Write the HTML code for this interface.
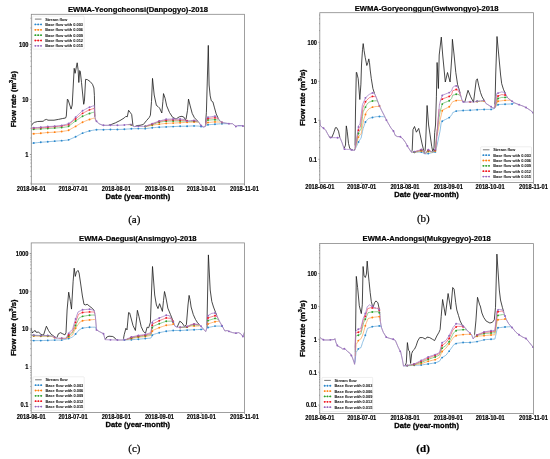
<!DOCTYPE html>
<html><head><meta charset="utf-8"><style>
html,body{margin:0;padding:0;background:#fff;width:550px;height:459px;overflow:hidden}
svg{display:block}
.t{font-family:"Liberation Sans",Arial,sans-serif;font-weight:bold;font-size:7.62px;fill:#000;stroke:#000;stroke-width:0.2px}
.tk{font-family:"Liberation Sans",Arial,sans-serif;font-weight:bold;font-size:5.7px;fill:#000;stroke:#000;stroke-width:0.14px}
.xl{font-family:"Liberation Sans",Arial,sans-serif;font-weight:bold;font-size:7.55px;fill:#000;stroke:#000;stroke-width:0.3px}
.lg{font-family:"Liberation Sans",Arial,sans-serif;font-weight:bold;font-size:7.8px;fill:#222;stroke:#222;stroke-width:0.12px}
.cap{font-family:"Liberation Serif",serif;font-size:11px;fill:#000;stroke:#000;stroke-width:0.2px}
</style></head><body>
<svg width="550" height="459" viewBox="0 0 550 459">
<defs><clipPath id="clipa"><rect x="31.3" y="14.3" width="213.2" height="169.7"/></clipPath><clipPath id="clipb"><rect x="319.8" y="12.7" width="213.59999999999997" height="169.70000000000002"/></clipPath><clipPath id="clipc"><rect x="31.2" y="242.9" width="213.3" height="169.49999999999997"/></clipPath><clipPath id="clipd"><rect x="319.8" y="243.6" width="213.7" height="169.79999999999998"/></clipPath></defs>
<text x="137.90" y="11.60" class="t" text-anchor="middle">EWMA-Yeongcheonsi(Danpogyo)-2018</text>
<path d="M30.50,183.26H31.30M30.50,176.39H31.30M30.50,171.06H31.30M30.50,166.70H31.30M30.50,163.02H31.30M30.50,159.83H31.30M30.50,157.02H31.30M29.90,154.50H31.30M30.50,137.94H31.30M30.50,128.26H31.30M30.50,121.39H31.30M30.50,116.06H31.30M30.50,111.70H31.30M30.50,108.02H31.30M30.50,104.83H31.30M30.50,102.02H31.30M29.90,99.50H31.30M30.50,82.94H31.30M30.50,73.26H31.30M30.50,66.39H31.30M30.50,61.06H31.30M30.50,56.70H31.30M30.50,53.02H31.30M30.50,49.83H31.30M30.50,47.02H31.30M29.90,44.50H31.30M30.50,27.94H31.30M30.50,18.26H31.30M31.30,184.00V185.40M73.10,184.00V185.40M116.30,184.00V185.40M159.50,184.00V185.40M201.30,184.00V185.40M244.50,184.00V185.40" stroke="#333" stroke-width="0.5" fill="none"/>
<text transform="translate(28.50,156.80) scale(1,1.1)" class="tk" text-anchor="end">1</text>
<text transform="translate(28.50,101.80) scale(1,1.1)" class="tk" text-anchor="end">10</text>
<text transform="translate(28.50,46.80) scale(1,1.1)" class="tk" text-anchor="end">100</text>
<text transform="translate(31.30,190.90) scale(1,1.1)" class="tk" text-anchor="middle">2018-06-01</text>
<text transform="translate(73.10,190.90) scale(1,1.1)" class="tk" text-anchor="middle">2018-07-01</text>
<text transform="translate(116.30,190.90) scale(1,1.1)" class="tk" text-anchor="middle">2018-08-01</text>
<text transform="translate(159.50,190.90) scale(1,1.1)" class="tk" text-anchor="middle">2018-09-01</text>
<text transform="translate(201.30,190.90) scale(1,1.1)" class="tk" text-anchor="middle">2018-10-01</text>
<text transform="translate(244.50,190.90) scale(1,1.1)" class="tk" text-anchor="middle">2018-11-01</text>
<text x="137.90" y="198.50" class="xl" text-anchor="middle">Date (year-month)</text>
<text transform="translate(16.30,99.15) rotate(-90)" class="xl" text-anchor="middle">Flow rate (m<tspan font-size="5.6" dy="-2.9">3</tspan><tspan dy="2.9">/s)</tspan></text>
<text x="134.30" y="222.60" class="cap" text-anchor="middle">(a)</text>
<g clip-path="url(#clipa)">
<polyline points="31.30,126.20 32.20,124.00 34.40,122.40 37.60,121.50 43.10,121.30 44.70,120.00 46.40,119.40 48.00,120.20 54.00,120.20 58.40,119.40 62.70,118.50 65.60,118.00 66.30,116.10 67.40,99.10 68.10,99.90 71.10,109.10 72.20,105.00 74.20,68.30 75.10,73.30 77.20,62.80 78.10,69.70 78.80,82.50 79.70,70.60 80.30,71.50 81.50,82.50 83.70,104.30 84.40,101.30 85.60,79.30 87.50,79.70 90.20,81.60 92.50,84.30 93.90,88.00 94.40,95.40 94.80,116.50" stroke="#1a1a1a" stroke-width="0.8" fill="none" stroke-linejoin="round"/>
<polyline points="94.80,116.50 95.90,120.60 99.20,123.90 103.00,125.30 107.90,125.30 108.80,125.08" stroke="#1a1a1a" stroke-width="0.8" fill="none" stroke-linejoin="round" stroke-opacity="0.3"/>
<polyline points="108.80,125.08 111.20,124.50 115.50,122.80 119.90,120.60 124.30,117.90 125.90,116.30 127.30,116.80 128.60,110.30 130.30,112.50 131.70,114.60 133.00,126.10" stroke="#1a1a1a" stroke-width="0.8" fill="none" stroke-linejoin="round"/>
<polyline points="133.00,126.10 134.60,126.60 135.30,126.32" stroke="#1a1a1a" stroke-width="0.8" fill="none" stroke-linejoin="round" stroke-opacity="0.3"/>
<polyline points="135.30,126.32 137.40,125.50 140.00,125.30 143.30,124.50 146.50,120.60 149.30,117.40 150.40,115.20 151.50,101.50 152.50,78.40 154.20,95.00 156.40,105.40 158.00,106.50 159.60,108.10 161.80,113.00 162.90,101.50 163.50,93.60 165.10,98.30 166.70,105.90 169.50,112.50 172.70,117.40 175.80,118.90" stroke="#1a1a1a" stroke-width="0.8" fill="none" stroke-linejoin="round"/>
<polyline points="175.80,118.90 176.00,119.00 176.30,118.80" stroke="#1a1a1a" stroke-width="0.8" fill="none" stroke-linejoin="round" stroke-opacity="0.3"/>
<polyline points="176.30,118.80 179.30,116.80 182.00,116.30 184.20,117.40 185.80,120.60" stroke="#1a1a1a" stroke-width="0.8" fill="none" stroke-linejoin="round"/>
<polyline points="185.80,120.60 186.05,119.09" stroke="#1a1a1a" stroke-width="0.8" fill="none" stroke-linejoin="round" stroke-opacity="0.3"/>
<polyline points="186.05,119.09 187.50,110.30 188.50,99.10 190.20,105.90 192.20,113.40 194.40,117.70 196.50,119.90 197.55,120.95" stroke="#1a1a1a" stroke-width="0.8" fill="none" stroke-linejoin="round"/>
<polyline points="197.55,120.95 198.70,122.10 200.90,125.40 203.60,127.00 205.30,126.50 205.55,123.27" stroke="#1a1a1a" stroke-width="0.8" fill="none" stroke-linejoin="round" stroke-opacity="0.3"/>
<polyline points="205.55,123.27 206.40,112.30 208.30,45.40 209.10,85.00 210.20,95.90 211.30,100.80 212.90,101.90 214.50,107.90 216.20,113.90 218.30,118.58" stroke="#1a1a1a" stroke-width="0.8" fill="none" stroke-linejoin="round"/>
<polyline points="218.30,118.58 218.40,118.80 220.50,121.50 222.70,122.60 226.00,123.20 229.30,123.70 232.50,123.70 235.80,126.50 238.00,125.60 241.30,125.60 244.50,126.50" stroke="#1a1a1a" stroke-width="0.8" fill="none" stroke-linejoin="round" stroke-opacity="0.3"/>
<polyline points="31.30,143.30 32.20,143.21 33.30,143.10 34.40,142.97 37.60,142.61 40.30,142.30 43.10,142.10 44.70,141.98 46.40,141.86 47.20,141.80 48.00,141.73 54.00,141.22 54.20,141.20 58.40,140.90 61.20,140.70 62.70,140.57 65.60,140.32 66.30,140.26 67.40,140.16 68.10,140.10 71.10,138.81 72.20,138.34 74.20,137.49 75.10,137.10 77.20,135.96 78.10,135.47 78.80,135.09 79.70,134.60 80.30,134.28 81.50,133.63 82.10,133.30 83.70,132.77 84.40,132.53 85.60,132.13 87.50,131.50 89.00,131.00 90.20,130.78 92.50,130.35 93.90,130.09 94.40,130.00 94.80,129.92 95.90,129.72 96.00,129.70 99.20,129.70 103.00,129.70 107.90,129.56 110.00,129.50 111.20,129.50 115.50,129.50 117.00,129.50 119.90,129.42 124.00,129.30 124.30,129.28 125.90,129.16 127.30,129.06 128.60,128.97 130.30,128.84 130.90,128.80 131.70,128.78 133.00,128.74 134.60,128.69 137.40,128.61 137.80,128.60 140.00,128.63 143.30,128.68 144.80,128.70 146.50,128.48 149.30,128.12 150.40,127.98 151.50,127.84 151.80,127.80 152.50,127.74 154.20,127.59 156.40,127.40 158.00,127.26 158.70,127.20 159.60,127.16 161.80,127.07 162.90,127.02 163.50,126.99 165.10,126.93 165.70,126.90 166.70,126.86 169.50,126.74 172.70,126.60 176.00,126.46 179.30,126.31 179.60,126.30 182.00,126.27 184.20,126.23 185.80,126.21 186.60,126.20 187.50,126.16 188.50,126.12 190.20,126.05 192.20,125.96 193.60,125.90 194.40,125.93 196.50,126.01 198.70,126.10 200.90,126.50 203.30,126.94" stroke="#6bacdb" stroke-width="0.75" fill="none" stroke-linejoin="round"/>
<polyline points="205.55,126.19 206.40,125.12 206.50,125.00 207.50,124.80 208.30,124.74 209.10,124.69 210.20,124.61 211.30,124.53 212.90,124.41 214.50,124.30 216.20,124.15 218.40,123.96 220.50,123.78 221.40,123.70 222.70,123.70 226.00,123.70 228.55,123.78" stroke="#6bacdb" stroke-width="0.75" fill="none" stroke-linejoin="round"/>
<polyline points="238.00,125.80 241.30,125.80 241.55,125.85" stroke="#6bacdb" stroke-width="0.75" fill="none" stroke-linejoin="round"/>
<polyline points="31.30,133.90 32.20,133.86 33.30,133.80 34.40,133.72 37.60,133.49 40.30,133.30 43.10,132.98 44.70,132.79 46.40,132.59 47.20,132.50 48.00,132.47 54.00,132.21 54.20,132.20 58.40,131.84 61.20,131.60 62.70,131.36 65.60,130.90 66.30,130.79 67.40,130.61 68.10,130.50 71.10,128.87 72.20,128.27 74.20,127.19 75.10,126.70 77.20,125.41 78.10,124.86 78.80,124.43 79.70,123.87 80.30,123.51 81.50,122.77 82.10,122.40 83.70,121.75 84.40,121.47 85.60,120.98 87.50,120.21 89.00,119.60 90.20,119.24 92.50,118.54 93.90,118.12 94.30,118.00 94.40,118.10 94.80,118.50 95.80,120.41" stroke="#ffa556" stroke-width="0.75" fill="none" stroke-linejoin="round"/>
<polyline points="127.55,124.79 128.60,124.73 130.30,124.63 130.90,124.60 131.70,125.17 132.05,125.42" stroke="#ffa556" stroke-width="0.75" fill="none" stroke-linejoin="round"/>
<polyline points="145.05,126.55 146.50,126.28 149.30,125.76 150.40,125.56 151.50,125.36 151.80,125.30 152.50,125.19 154.20,124.92 156.40,124.57 158.00,124.31 158.70,124.20 159.60,124.10 161.80,123.85 162.90,123.72 163.50,123.65 165.10,123.47 165.70,123.40 166.70,123.36 169.50,123.24 172.70,123.10 176.00,122.96 179.30,122.81 179.60,122.80 182.00,122.63 184.20,122.47 185.80,122.36 186.60,122.30 187.50,122.27 188.50,122.25 190.20,122.20 192.20,122.14 193.60,122.10 194.40,122.10 196.50,122.10 198.55,122.10" stroke="#ffa556" stroke-width="0.75" fill="none" stroke-linejoin="round"/>
<polyline points="205.55,125.73 206.40,123.11 206.50,122.80 207.50,122.60 208.30,122.52 209.10,122.44 210.20,122.33 211.30,122.22 212.90,122.06 214.50,121.90 216.20,121.95 218.00,122.00 218.40,122.02 220.50,122.10 222.05,122.45" stroke="#ffa556" stroke-width="0.75" fill="none" stroke-linejoin="round"/>
<polyline points="31.30,129.30 32.20,129.25 33.30,129.20 34.40,129.15 37.60,129.02 40.30,128.90 43.10,128.78 44.70,128.71 46.40,128.63 47.20,128.60 48.00,128.54 54.00,128.11 54.20,128.10 58.40,127.80 61.20,127.60 62.70,127.40 65.60,127.03 66.30,126.93 67.40,126.79 68.10,126.70 71.10,124.39 72.20,123.54 74.20,121.99 75.10,121.30 77.20,119.86 78.10,119.24 78.80,118.76 79.70,118.15 80.30,117.73 81.50,116.91 82.10,116.50 83.70,115.83 84.40,115.53 85.60,115.03 87.50,114.23 89.00,113.60 90.20,113.24 92.50,112.54 93.90,112.12 94.30,112.00 94.40,112.90 94.80,116.50" stroke="#6bbc6b" stroke-width="0.75" fill="none" stroke-linejoin="round"/>
<polyline points="128.60,124.67 130.30,124.54 130.90,124.50 131.70,125.11" stroke="#6bbc6b" stroke-width="0.75" fill="none" stroke-linejoin="round"/>
<polyline points="145.05,126.54 146.50,126.16 149.30,125.44 150.40,125.16 151.50,124.88 151.80,124.80 152.50,124.55 154.20,123.93 156.40,123.13 158.00,122.55 158.70,122.30 159.60,122.16 161.80,121.81 162.90,121.64 163.50,121.55 165.10,121.29 165.70,121.20 166.70,121.17 169.50,121.09 172.70,121.00 176.00,121.00 179.30,121.00 179.60,121.00 182.00,121.07 184.20,121.13 185.80,121.18 186.55,121.20" stroke="#6bbc6b" stroke-width="0.75" fill="none" stroke-linejoin="round"/>
<polyline points="188.05,121.22 188.50,121.23 190.20,121.25 192.20,121.28 193.60,121.30 194.40,121.40 196.50,121.65 197.80,121.80 198.55,122.05" stroke="#6bbc6b" stroke-width="0.75" fill="none" stroke-linejoin="round"/>
<polyline points="205.55,125.25 206.40,121.00 206.50,120.50 207.50,120.10 208.30,120.05 209.10,120.01 210.20,119.95 211.30,119.88 212.90,119.79 214.50,119.70 216.20,119.84 217.00,119.90 218.40,119.98 218.80,120.00 220.05,121.10" stroke="#6bbc6b" stroke-width="0.75" fill="none" stroke-linejoin="round"/>
<polyline points="31.30,128.20 32.20,128.16 33.30,128.10 34.40,128.05 37.60,127.92 40.30,127.80 43.10,127.60 44.70,127.48 46.40,127.36 47.20,127.30 48.00,127.23 54.00,126.72 54.20,126.70 58.40,126.28 61.20,126.00 62.70,125.76 65.60,125.30 66.30,125.19 67.40,125.01 68.10,124.90 71.10,122.54 72.20,121.68 74.20,120.11 75.10,119.40 77.20,117.66 78.10,116.91 78.80,116.33 79.70,115.59 80.30,115.09 81.50,114.10 82.10,113.60 83.70,112.77 84.40,112.40 85.60,111.77 87.50,110.78 89.00,110.00 90.20,109.62 92.50,108.88 93.90,108.43 94.30,108.30 94.40,109.94 94.80,116.50" stroke="#f45a62" stroke-width="0.75" fill="none" stroke-linejoin="round"/>
<polyline points="146.80,125.87 149.30,125.09 150.40,124.74 151.50,124.39 151.80,124.30 152.50,124.03 154.20,123.36 156.40,122.50 158.00,121.87 158.70,121.60 159.60,121.42 161.80,120.98 162.90,120.76 163.50,120.64 165.10,120.32 165.70,120.20 166.70,120.16 169.50,120.04 172.70,119.90 176.00,120.00 179.30,120.09 179.60,120.10 182.00,120.20 184.20,120.29 184.50,120.30 185.80,120.80 186.05,120.80" stroke="#f45a62" stroke-width="0.75" fill="none" stroke-linejoin="round"/>
<polyline points="186.55,120.80 187.50,120.80 188.30,120.80" stroke="#f45a62" stroke-width="0.75" fill="none" stroke-linejoin="round"/>
<polyline points="191.30,120.80 192.20,120.80 193.60,120.80 194.40,120.90 196.50,121.15 196.80,121.18" stroke="#f45a62" stroke-width="0.75" fill="none" stroke-linejoin="round"/>
<polyline points="205.55,124.94 206.40,119.62 206.50,119.00 207.50,118.60 208.30,118.51 209.10,118.42 210.20,118.29 211.30,118.17 212.90,117.98 214.50,117.80 216.20,117.90 218.30,118.76" stroke="#f45a62" stroke-width="0.75" fill="none" stroke-linejoin="round"/>
<polyline points="31.30,127.90 32.20,127.86 33.30,127.80 34.40,127.72 37.60,127.49 40.30,127.30 43.10,127.02 44.70,126.85 46.40,126.68 47.20,126.60 48.00,126.55 54.00,126.21 54.20,126.20 58.40,125.84 61.20,125.60 62.70,125.23 65.60,124.52 66.30,124.34 67.40,124.07 68.10,123.90 71.00,122.00 71.10,121.90 72.20,120.74 74.20,118.64 75.10,117.70 77.20,115.69 78.10,114.83 78.80,114.16 79.70,113.30 80.30,112.72 81.50,111.57 82.10,111.00 83.70,110.17 84.40,109.80 85.60,109.17 87.50,108.18 89.00,107.40 90.20,106.97 92.50,106.15 93.90,105.64 94.30,105.50 94.40,107.70 94.80,116.50 95.90,120.60 99.20,123.90 103.00,125.30 107.90,125.30 110.00,125.30 111.20,125.30 115.50,125.30 117.00,125.30 119.90,125.18 124.00,125.00 124.30,124.97 125.90,124.78 127.30,124.62 128.60,124.47 130.30,124.27 130.90,124.20 131.70,124.92 133.00,126.10 134.60,126.60 137.40,126.38 137.80,126.40 140.00,126.40 143.30,126.40 144.80,126.40 146.50,125.77 149.30,124.73 150.40,124.32 151.50,123.91 151.80,123.80 152.50,123.54 154.20,122.90 156.40,122.07 158.00,121.46 158.70,121.20 159.60,120.96 161.80,120.36 162.90,120.06 163.50,119.90 165.10,119.46 165.70,119.30 166.70,119.26 169.50,119.14 172.70,119.00 176.00,119.00 179.30,119.00 179.60,119.00 182.00,119.24 184.20,119.47 184.50,119.50 185.80,120.60 186.60,121.20 187.50,121.08 188.50,120.96 190.20,120.74 192.20,120.48 193.60,120.30 194.40,120.47 196.50,120.92 197.80,121.20 198.70,122.10 200.90,125.40 203.60,127.00 205.30,126.50 206.40,118.71 206.50,118.00 207.50,117.40 208.30,117.26 209.10,117.13 210.20,116.94 211.30,116.75 212.90,116.47 214.50,116.20 216.20,116.50 218.40,118.80 220.50,121.50 222.70,122.60 226.00,123.20 229.30,123.70 232.50,123.70 235.80,126.50 238.00,125.60 241.30,125.60 244.50,126.50" stroke="#a179c5" stroke-width="0.75" fill="none" stroke-linejoin="round"/>
<g fill="#2b88cc"><circle cx="33.80" cy="143.04" r="0.95"/><circle cx="40.77" cy="142.27" r="0.95"/><circle cx="47.74" cy="141.75" r="0.95"/><circle cx="54.70" cy="141.16" r="0.95"/><circle cx="61.67" cy="140.66" r="0.95"/><circle cx="68.64" cy="139.87" r="0.95"/><circle cx="75.61" cy="136.82" r="0.95"/><circle cx="82.58" cy="133.14" r="0.95"/><circle cx="89.54" cy="130.90" r="0.95"/><circle cx="96.51" cy="129.70" r="0.95"/><circle cx="103.48" cy="129.69" r="0.95"/><circle cx="110.45" cy="129.50" r="0.95"/><circle cx="117.42" cy="129.49" r="0.95"/><circle cx="124.38" cy="129.27" r="0.95"/><circle cx="131.35" cy="128.79" r="0.95"/><circle cx="138.32" cy="128.61" r="0.95"/><circle cx="145.29" cy="128.64" r="0.95"/><circle cx="152.26" cy="127.76" r="0.95"/><circle cx="159.22" cy="127.18" r="0.95"/><circle cx="166.19" cy="126.88" r="0.95"/><circle cx="173.16" cy="126.58" r="0.95"/><circle cx="180.13" cy="126.29" r="0.95"/><circle cx="187.10" cy="126.18" r="0.95"/><circle cx="194.06" cy="125.92" r="0.95"/><circle cx="201.03" cy="126.52" r="0.95"/><circle cx="208.00" cy="124.76" r="0.95"/><circle cx="214.97" cy="124.26" r="0.95"/><circle cx="221.94" cy="123.70" r="0.95"/></g>
<g fill="#ff7f0e"><circle cx="33.80" cy="133.76" r="0.95"/><circle cx="40.77" cy="133.25" r="0.95"/><circle cx="47.74" cy="132.48" r="0.95"/><circle cx="54.70" cy="132.16" r="0.95"/><circle cx="61.67" cy="131.52" r="0.95"/><circle cx="68.64" cy="130.21" r="0.95"/><circle cx="75.61" cy="126.39" r="0.95"/><circle cx="82.58" cy="122.21" r="0.95"/><circle cx="89.54" cy="119.44" r="0.95"/><circle cx="131.35" cy="124.92" r="0.95"/><circle cx="145.29" cy="126.51" r="0.95"/><circle cx="152.26" cy="125.23" r="0.95"/><circle cx="159.22" cy="124.14" r="0.95"/><circle cx="166.19" cy="123.38" r="0.95"/><circle cx="173.16" cy="123.08" r="0.95"/><circle cx="180.13" cy="122.76" r="0.95"/><circle cx="187.10" cy="122.29" r="0.95"/><circle cx="194.06" cy="122.10" r="0.95"/><circle cx="208.00" cy="122.55" r="0.95"/><circle cx="214.97" cy="121.91" r="0.95"/><circle cx="221.94" cy="122.43" r="0.95"/></g>
<g fill="#2ca02c"><circle cx="33.80" cy="129.18" r="0.95"/><circle cx="40.77" cy="128.88" r="0.95"/><circle cx="47.74" cy="128.56" r="0.95"/><circle cx="54.70" cy="128.06" r="0.95"/><circle cx="61.67" cy="127.54" r="0.95"/><circle cx="68.64" cy="126.28" r="0.95"/><circle cx="75.61" cy="120.95" r="0.95"/><circle cx="82.58" cy="116.30" r="0.95"/><circle cx="89.54" cy="113.44" r="0.95"/><circle cx="131.35" cy="124.84" r="0.95"/><circle cx="145.29" cy="126.47" r="0.95"/><circle cx="152.26" cy="124.63" r="0.95"/><circle cx="159.22" cy="122.22" r="0.95"/><circle cx="166.19" cy="121.19" r="0.95"/><circle cx="173.16" cy="121.00" r="0.95"/><circle cx="180.13" cy="121.02" r="0.95"/><circle cx="194.06" cy="121.36" r="0.95"/><circle cx="208.00" cy="120.07" r="0.95"/><circle cx="214.97" cy="119.74" r="0.95"/></g>
<g fill="#f0141e"><circle cx="33.80" cy="128.08" r="0.95"/><circle cx="40.77" cy="127.77" r="0.95"/><circle cx="47.74" cy="127.25" r="0.95"/><circle cx="54.70" cy="126.65" r="0.95"/><circle cx="61.67" cy="125.92" r="0.95"/><circle cx="68.64" cy="124.48" r="0.95"/><circle cx="75.61" cy="118.98" r="0.95"/><circle cx="82.58" cy="113.35" r="0.95"/><circle cx="89.54" cy="109.83" r="0.95"/><circle cx="152.26" cy="124.12" r="0.95"/><circle cx="159.22" cy="121.50" r="0.95"/><circle cx="166.19" cy="120.18" r="0.95"/><circle cx="173.16" cy="119.91" r="0.95"/><circle cx="180.13" cy="120.12" r="0.95"/><circle cx="187.10" cy="120.80" r="0.95"/><circle cx="194.06" cy="120.86" r="0.95"/><circle cx="208.00" cy="118.54" r="0.95"/><circle cx="214.97" cy="117.83" r="0.95"/></g>
<g fill="#9467bd"><circle cx="33.80" cy="127.76" r="0.95"/><circle cx="40.77" cy="127.25" r="0.95"/><circle cx="47.74" cy="126.57" r="0.95"/><circle cx="54.70" cy="126.16" r="0.95"/><circle cx="61.67" cy="125.48" r="0.95"/><circle cx="68.64" cy="123.55" r="0.95"/><circle cx="75.61" cy="117.21" r="0.95"/><circle cx="82.58" cy="110.75" r="0.95"/><circle cx="89.54" cy="107.20" r="0.95"/><circle cx="96.51" cy="121.21" r="0.95"/><circle cx="103.48" cy="125.30" r="0.95"/><circle cx="110.45" cy="125.30" r="0.95"/><circle cx="117.42" cy="125.28" r="0.95"/><circle cx="124.38" cy="124.96" r="0.95"/><circle cx="131.35" cy="124.61" r="0.95"/><circle cx="138.32" cy="126.40" r="0.95"/><circle cx="145.29" cy="126.22" r="0.95"/><circle cx="152.26" cy="123.63" r="0.95"/><circle cx="159.22" cy="121.06" r="0.95"/><circle cx="166.19" cy="119.28" r="0.95"/><circle cx="173.16" cy="119.00" r="0.95"/><circle cx="180.13" cy="119.05" r="0.95"/><circle cx="187.10" cy="121.14" r="0.95"/><circle cx="194.06" cy="120.40" r="0.95"/><circle cx="201.03" cy="125.48" r="0.95"/><circle cx="208.00" cy="117.31" r="0.95"/><circle cx="214.97" cy="116.28" r="0.95"/><circle cx="221.94" cy="122.22" r="0.95"/><circle cx="228.90" cy="123.64" r="0.95"/><circle cx="235.87" cy="126.47" r="0.95"/><circle cx="242.84" cy="126.03" r="0.95"/></g>
</g>
<rect x="32.70" y="16.10" width="51.50" height="33.00" rx="0.8" fill="#fff" fill-opacity="0.85" stroke="#ddd" stroke-width="0.5"/>
<path d="M34.90,19.10h6.6" stroke="#555" stroke-width="0.8"/>
<path d="M34.90,24.45h6.6" stroke="#2b88cc" stroke-width="0.8" stroke-dasharray="1.6,0.8"/>
<g fill="#2b88cc"><circle cx="35.30" cy="24.45" r="0.9"/><circle cx="38.20" cy="24.45" r="0.9"/><circle cx="41.10" cy="24.45" r="0.9"/></g>
<path d="M34.90,29.80h6.6" stroke="#ff7f0e" stroke-width="0.8" stroke-dasharray="1.6,0.8"/>
<g fill="#ff7f0e"><circle cx="35.30" cy="29.80" r="0.9"/><circle cx="38.20" cy="29.80" r="0.9"/><circle cx="41.10" cy="29.80" r="0.9"/></g>
<path d="M34.90,35.15h6.6" stroke="#2ca02c" stroke-width="0.8" stroke-dasharray="1.6,0.8"/>
<g fill="#2ca02c"><circle cx="35.30" cy="35.15" r="0.9"/><circle cx="38.20" cy="35.15" r="0.9"/><circle cx="41.10" cy="35.15" r="0.9"/></g>
<path d="M34.90,40.50h6.6" stroke="#f0141e" stroke-width="0.8" stroke-dasharray="1.6,0.8"/>
<g fill="#f0141e"><circle cx="35.30" cy="40.50" r="0.9"/><circle cx="38.20" cy="40.50" r="0.9"/><circle cx="41.10" cy="40.50" r="0.9"/></g>
<path d="M34.90,45.85h6.6" stroke="#9467bd" stroke-width="0.8" stroke-dasharray="1.6,0.8"/>
<g fill="#9467bd"><circle cx="35.30" cy="45.85" r="0.9"/><circle cx="38.20" cy="45.85" r="0.9"/><circle cx="41.10" cy="45.85" r="0.9"/></g>
<text transform="translate(45.20,20.50) scale(0.5)" class="lg">Stream flow</text>
<text transform="translate(45.20,25.85) scale(0.5)" class="lg">Base flow with 0.003</text>
<text transform="translate(45.20,31.20) scale(0.5)" class="lg">Base flow with 0.006</text>
<text transform="translate(45.20,36.55) scale(0.5)" class="lg">Base flow with 0.009</text>
<text transform="translate(45.20,41.90) scale(0.5)" class="lg">Base flow with 0.012</text>
<text transform="translate(45.20,47.25) scale(0.5)" class="lg">Base flow with 0.015</text>
<rect x="31.30" y="14.30" width="213.20" height="169.70" fill="none" stroke="#888" stroke-width="0.8"/>
<text x="426.60" y="10.90" class="t" text-anchor="middle">EWMA-Goryeonggun(Gwiwongyo)-2018</text>
<path d="M319.00,179.68H319.80M319.00,174.81H319.80M319.00,171.03H319.80M319.00,167.94H319.80M319.00,165.33H319.80M319.00,163.07H319.80M319.00,161.07H319.80M318.40,159.29H319.80M319.00,147.55H319.80M319.00,140.69H319.80M319.00,135.82H319.80M319.00,132.04H319.80M319.00,128.95H319.80M319.00,126.34H319.80M319.00,124.08H319.80M319.00,122.08H319.80M318.40,120.30H319.80M319.00,108.56H319.80M319.00,101.70H319.80M319.00,96.83H319.80M319.00,93.05H319.80M319.00,89.96H319.80M319.00,87.35H319.80M319.00,85.09H319.80M319.00,83.09H319.80M318.40,81.31H319.80M319.00,69.57H319.80M319.00,62.71H319.80M319.00,57.84H319.80M319.00,54.06H319.80M319.00,50.97H319.80M319.00,48.36H319.80M319.00,46.10H319.80M319.00,44.10H319.80M318.40,42.32H319.80M319.00,30.58H319.80M319.00,23.72H319.80M319.00,18.85H319.80M319.00,15.07H319.80M319.80,182.40V183.80M361.68,182.40V183.80M404.96,182.40V183.80M448.24,182.40V183.80M490.12,182.40V183.80M533.40,182.40V183.80" stroke="#333" stroke-width="0.5" fill="none"/>
<text transform="translate(317.00,161.59) scale(1,1.1)" class="tk" text-anchor="end">0.1</text>
<text transform="translate(317.00,122.60) scale(1,1.1)" class="tk" text-anchor="end">1</text>
<text transform="translate(317.00,83.61) scale(1,1.1)" class="tk" text-anchor="end">10</text>
<text transform="translate(317.00,44.62) scale(1,1.1)" class="tk" text-anchor="end">100</text>
<text transform="translate(319.80,189.30) scale(1,1.1)" class="tk" text-anchor="middle">2018-06-01</text>
<text transform="translate(361.68,189.30) scale(1,1.1)" class="tk" text-anchor="middle">2018-07-01</text>
<text transform="translate(404.96,189.30) scale(1,1.1)" class="tk" text-anchor="middle">2018-08-01</text>
<text transform="translate(448.24,189.30) scale(1,1.1)" class="tk" text-anchor="middle">2018-09-01</text>
<text transform="translate(490.12,189.30) scale(1,1.1)" class="tk" text-anchor="middle">2018-10-01</text>
<text transform="translate(533.40,189.30) scale(1,1.1)" class="tk" text-anchor="middle">2018-11-01</text>
<text x="426.60" y="196.90" class="xl" text-anchor="middle">Date (year-month)</text>
<text transform="translate(304.80,97.55) rotate(-90)" class="xl" text-anchor="middle">Flow rate (m<tspan font-size="5.6" dy="-2.9">3</tspan><tspan dy="2.9">/s)</tspan></text>
<text x="423.30" y="222.30" class="cap" text-anchor="middle">(b)</text>
<g clip-path="url(#clipb)">
<polyline points="319.80,119.80 320.20,125.10 321.50,126.80 324.10,128.60 325.80,130.30 327.60,133.80 329.30,136.50" stroke="#1a1a1a" stroke-width="0.8" fill="none" stroke-linejoin="round" stroke-opacity="0.3"/>
<polyline points="329.30,136.50 329.80,137.30 331.90,137.30 333.70,132.90 335.40,127.70 336.70,127.70 338.50,131.20 339.80,137.30" stroke="#1a1a1a" stroke-width="0.8" fill="none" stroke-linejoin="round"/>
<polyline points="339.80,137.30 342.00,142.50 344.10,148.60 344.30,148.10" stroke="#1a1a1a" stroke-width="0.8" fill="none" stroke-linejoin="round" stroke-opacity="0.3"/>
<polyline points="344.30,148.10 345.50,145.10 346.30,125.90 347.20,131.20 348.50,143.40 349.80,148.60 351.60,149.50 352.80,149.96" stroke="#1a1a1a" stroke-width="0.8" fill="none" stroke-linejoin="round"/>
<polyline points="352.80,149.96 353.70,150.30 354.05,150.08" stroke="#1a1a1a" stroke-width="0.8" fill="none" stroke-linejoin="round" stroke-opacity="0.3"/>
<polyline points="354.05,150.08 355.00,149.50" stroke="#1a1a1a" stroke-width="0.8" fill="none" stroke-linejoin="round"/>
<polyline points="355.00,149.50 355.05,145.55" stroke="#1a1a1a" stroke-width="0.8" fill="none" stroke-linejoin="round" stroke-opacity="0.3"/>
<polyline points="355.05,145.55 355.50,110.00 356.30,72.50 356.60,72.20 358.20,78.70 359.80,99.50 360.90,84.20 361.50,65.00 362.50,49.60 363.20,43.60 364.10,50.70 365.20,57.30 366.80,65.50 367.90,62.70 368.80,58.90 369.50,62.70 370.20,70.00 371.30,78.70 372.90,88.50 374.50,93.50" stroke="#1a1a1a" stroke-width="0.8" fill="none" stroke-linejoin="round"/>
<polyline points="374.50,93.50 376.20,97.30 377.80,101.60 379.50,106.00 381.60,110.40 384.40,115.80 386.50,120.30 388.70,124.10 390.90,127.90 393.60,131.20 395.30,135.50 397.50,136.60 400.20,136.60 402.90,138.80 405.60,142.60 408.00,147.10 411.50,152.40 411.80,151.41" stroke="#1a1a1a" stroke-width="0.8" fill="none" stroke-linejoin="round" stroke-opacity="0.3"/>
<polyline points="411.80,151.41 412.20,150.10 413.00,129.60 414.50,126.50 416.40,132.20 418.70,128.40 420.20,134.90 422.10,144.00 424.30,152.80" stroke="#1a1a1a" stroke-width="0.8" fill="none" stroke-linejoin="round"/>
<polyline points="424.30,152.80 424.40,153.20 424.80,154.00 425.05,150.88" stroke="#1a1a1a" stroke-width="0.8" fill="none" stroke-linejoin="round" stroke-opacity="0.3"/>
<polyline points="425.05,150.88 425.60,144.00 427.10,105.50 428.60,125.00 430.10,134.90 431.70,146.30 432.80,151.70" stroke="#1a1a1a" stroke-width="0.8" fill="none" stroke-linejoin="round"/>
<polyline points="432.80,151.70 433.05,150.91" stroke="#1a1a1a" stroke-width="0.8" fill="none" stroke-linejoin="round" stroke-opacity="0.3"/>
<polyline points="433.05,150.91 434.00,147.90 434.70,132.60 435.50,125.00 436.40,96.80 437.10,62.50 438.40,88.50 439.20,55.00 441.30,37.10 442.70,55.00 445.30,82.00 447.50,72.50 450.10,82.00 451.90,55.00 452.40,39.30 454.10,55.00 455.80,72.50 457.60,84.70 459.30,89.90 460.05,93.10" stroke="#1a1a1a" stroke-width="0.8" fill="none" stroke-linejoin="round"/>
<polyline points="460.05,93.10 460.40,94.60 462.00,100.10 463.60,102.30 464.70,102.30 464.80,101.94" stroke="#1a1a1a" stroke-width="0.8" fill="none" stroke-linejoin="round" stroke-opacity="0.3"/>
<polyline points="464.80,101.94 468.00,90.30 470.70,96.80 473.50,102.30" stroke="#1a1a1a" stroke-width="0.8" fill="none" stroke-linejoin="round"/>
<polyline points="473.50,102.30 473.55,101.90" stroke="#1a1a1a" stroke-width="0.8" fill="none" stroke-linejoin="round" stroke-opacity="0.3"/>
<polyline points="473.55,101.90 476.20,80.50 477.30,78.80 478.80,85.90 480.50,92.50 482.10,96.80 484.30,100.60" stroke="#1a1a1a" stroke-width="0.8" fill="none" stroke-linejoin="round"/>
<polyline points="484.30,100.60 485.90,103.40 489.20,105.50 492.50,107.70 494.60,108.30 494.80,104.47" stroke="#1a1a1a" stroke-width="0.8" fill="none" stroke-linejoin="round" stroke-opacity="0.3"/>
<polyline points="494.80,104.47 495.20,96.80 495.70,75.00 497.00,36.50 500.60,75.00 501.70,83.70 503.40,89.20 505.05,93.05" stroke="#1a1a1a" stroke-width="0.8" fill="none" stroke-linejoin="round"/>
<polyline points="505.05,93.05 505.50,94.10 507.70,97.90 511.00,100.60 514.30,102.80 518.60,104.50 523.00,106.10 526.30,107.70 530.60,110.50 533.40,113.00" stroke="#1a1a1a" stroke-width="0.8" fill="none" stroke-linejoin="round" stroke-opacity="0.3"/>
<polyline points="355.05,149.43 355.50,148.45 356.30,146.72 356.60,146.07 358.20,142.60 358.80,141.30 359.80,139.87 360.90,138.29 361.10,138.00 361.50,136.08 362.50,131.29 363.00,128.90 363.20,128.35 364.10,125.85 365.20,122.81 365.60,121.70 366.80,120.38 367.90,119.16 368.50,118.50 368.80,118.42 369.50,118.24 370.20,118.07 371.30,117.78 372.80,117.40 372.90,117.38 374.50,117.05 376.20,116.70 377.80,116.60 379.30,116.50 379.50,116.51 381.60,116.62 383.30,116.70 384.40,116.91 384.90,117.00" stroke="#6bacdb" stroke-width="0.75" fill="none" stroke-linejoin="round"/>
<polyline points="412.55,152.36 413.00,152.34 414.50,152.28 416.40,152.20 418.70,152.11 420.20,152.05 421.40,152.00 422.10,152.41 424.40,153.76 424.80,154.00" stroke="#6bacdb" stroke-width="0.75" fill="none" stroke-linejoin="round"/>
<polyline points="425.05,153.97 425.60,153.90 427.10,153.70 427.90,153.60 428.60,153.44 430.10,153.11 431.70,152.75 432.80,152.50 434.00,152.35 434.70,152.26 435.20,152.20 435.50,151.10 436.40,147.80 437.00,145.60 437.10,145.12 438.40,138.88 439.20,135.04 440.00,131.20 441.20,122.80 441.30,122.65 442.40,121.00 442.70,120.85 445.30,119.55 447.50,118.45 449.60,117.40 450.10,116.78 451.90,114.53 452.00,114.40 452.40,113.37 452.70,112.60 454.10,112.01 455.80,111.29 456.50,111.00 457.60,110.92 459.30,110.80 460.40,110.73 462.00,110.61 463.60,110.50 464.70,110.45 468.00,110.31 470.70,110.20 473.50,110.00 476.20,109.81 477.30,109.74 477.80,109.70 478.80,109.66 480.50,109.58 482.10,109.52 484.30,109.42 484.80,109.40 485.90,109.40 489.20,109.40 491.40,109.40 492.50,109.07 494.10,108.60 494.55,108.33" stroke="#6bacdb" stroke-width="0.75" fill="none" stroke-linejoin="round"/>
<polyline points="494.80,107.97 495.20,107.31 495.70,106.49 496.00,106.00 497.00,105.40 498.50,104.50 500.60,104.41 501.70,104.36 503.40,104.29 505.50,104.20 507.70,104.11 511.00,103.97 512.60,103.90 514.30,102.80" stroke="#6bacdb" stroke-width="0.75" fill="none" stroke-linejoin="round"/>
<polyline points="355.05,149.28 355.50,147.34 356.30,144.61 356.60,143.59 358.20,138.14 358.80,136.10 359.80,135.23 360.90,134.27 361.10,134.10 361.50,131.90 362.50,126.40 363.20,122.55 363.70,119.80 364.10,118.60 365.20,115.30 366.30,112.00 366.80,111.41 367.90,110.11 368.80,109.05 369.10,108.70 369.50,108.52 370.20,108.19 371.30,107.69 372.80,107.00 372.90,106.99 374.50,106.75 376.20,106.50 377.80,106.50 378.90,106.50 379.50,106.00" stroke="#ffa556" stroke-width="0.75" fill="none" stroke-linejoin="round"/>
<polyline points="412.80,152.31 413.00,152.30 414.50,152.20 416.40,151.90 418.30,151.60 418.70,151.52 420.20,151.23 421.40,151.00 422.10,151.18 423.30,151.50 424.40,153.33" stroke="#ffa556" stroke-width="0.75" fill="none" stroke-linejoin="round"/>
<polyline points="425.30,153.61 425.60,153.37 427.10,152.20 428.60,151.30 430.10,151.76 430.90,152.00 431.70,152.00 432.80,152.00 434.00,151.56 434.70,151.30 435.50,151.00 436.40,139.60 436.80,137.47" stroke="#ffa556" stroke-width="0.75" fill="none" stroke-linejoin="round"/>
<polyline points="437.05,136.13 437.10,135.87 438.40,128.93 439.20,124.67 440.00,120.40 441.30,114.87 442.40,110.20 442.70,110.05 445.30,108.75 447.50,107.65 449.60,106.60 450.10,105.77 451.40,103.60 451.90,102.87 452.40,102.14 452.70,101.70 454.10,101.25 455.80,100.71 457.10,100.30 457.60,100.33 459.30,100.45 460.40,100.52 461.50,100.60 462.00,100.92 463.05,101.58" stroke="#ffa556" stroke-width="0.75" fill="none" stroke-linejoin="round"/>
<polyline points="468.55,102.09 470.20,102.00 470.70,101.97 471.80,102.10" stroke="#ffa556" stroke-width="0.75" fill="none" stroke-linejoin="round"/>
<polyline points="475.05,101.93 476.20,101.66 477.30,101.60 478.80,101.46 480.50,101.30 482.10,101.15 483.70,101.00 484.30,100.96 484.50,100.95" stroke="#ffa556" stroke-width="0.75" fill="none" stroke-linejoin="round"/>
<polyline points="494.80,107.87 495.20,107.01 495.70,105.93 497.00,103.14 497.90,101.20 500.60,100.88 501.70,100.75 503.40,100.55 505.50,100.30 507.70,100.30 509.90,100.30 510.80,100.55" stroke="#ffa556" stroke-width="0.75" fill="none" stroke-linejoin="round"/>
<polyline points="355.30,147.70 355.50,146.50 356.30,143.03 356.60,141.73 358.20,134.80 358.80,132.20 359.80,130.77 360.90,129.19 361.10,128.90 361.50,125.34 362.50,116.45 363.00,112.00 363.20,111.61 364.10,109.83 365.20,107.66 366.80,104.49 367.00,104.10 367.90,103.29 368.80,102.47 369.10,102.20 369.50,102.06 370.20,101.81 371.30,101.43 372.80,100.90 372.90,100.90 374.50,100.86 376.20,100.81 376.70,100.80 377.80,101.60" stroke="#6bbc6b" stroke-width="0.75" fill="none" stroke-linejoin="round"/>
<polyline points="413.55,152.13 414.50,152.00 416.40,151.60 418.30,151.20 418.70,151.08 420.20,150.65 421.40,150.30 422.10,150.56 423.30,151.00 424.30,153.00" stroke="#6bbc6b" stroke-width="0.75" fill="none" stroke-linejoin="round"/>
<polyline points="425.55,153.25 425.60,153.20 427.10,151.70 428.60,150.60 430.10,151.32 430.90,151.70 431.70,151.78 432.80,151.90 434.00,151.14 434.70,150.70 435.50,150.20 436.40,136.00 437.10,131.33 438.40,122.67 439.20,117.33 440.00,112.00 441.30,107.45 442.40,103.60 442.70,103.47 445.30,102.37 447.50,101.45 449.50,100.60 450.10,100.00 451.60,98.50 451.90,97.60 452.40,96.10 452.70,95.20 454.10,94.85 455.80,94.42 457.10,94.10 457.60,94.29 459.30,94.92 459.50,95.00 460.40,96.00 461.00,96.66" stroke="#6bbc6b" stroke-width="0.75" fill="none" stroke-linejoin="round"/>
<polyline points="470.20,101.90 470.70,101.86 470.80,101.88" stroke="#6bbc6b" stroke-width="0.75" fill="none" stroke-linejoin="round"/>
<polyline points="476.20,101.48 477.30,101.40 478.80,101.26 479.80,101.17" stroke="#6bbc6b" stroke-width="0.75" fill="none" stroke-linejoin="round"/>
<polyline points="481.30,101.03 482.10,100.95 483.70,100.80 483.80,100.77" stroke="#6bbc6b" stroke-width="0.75" fill="none" stroke-linejoin="round"/>
<polyline points="494.80,107.71 495.20,106.52 495.70,105.03 497.00,101.17 497.90,98.50 500.60,97.72 501.70,97.40 503.40,97.40 505.50,97.40 507.20,97.40 507.55,97.75" stroke="#6bbc6b" stroke-width="0.75" fill="none" stroke-linejoin="round"/>
<polyline points="355.30,147.24 355.50,145.73 356.30,141.58 356.60,140.02 358.20,131.71 358.80,128.60 359.80,127.53 360.30,127.00 360.90,122.64 361.50,118.29 362.50,111.03 363.00,107.40 363.20,106.95 364.10,104.90 365.20,102.41 365.60,101.50 366.80,100.23 367.90,99.07 368.80,98.12 369.10,97.80 369.50,97.63 370.20,97.33 371.30,96.87 372.40,96.40 372.90,96.45 374.50,96.60 375.60,96.70 376.05,97.15" stroke="#f45a62" stroke-width="0.75" fill="none" stroke-linejoin="round"/>
<polyline points="414.50,151.90 416.40,151.35 418.30,150.80 418.70,150.67 420.20,150.19 421.40,149.80 422.10,150.02 423.30,150.40 423.80,151.67" stroke="#f45a62" stroke-width="0.75" fill="none" stroke-linejoin="round"/>
<polyline points="426.55,151.87 427.10,151.20 428.60,150.00 430.10,150.98 430.90,151.50" stroke="#f45a62" stroke-width="0.75" fill="none" stroke-linejoin="round"/>
<polyline points="433.80,151.06 434.00,150.91 434.70,150.39 435.50,149.80 436.40,140.00 437.10,131.83 438.40,116.67 439.05,109.08" stroke="#f45a62" stroke-width="0.75" fill="none" stroke-linejoin="round"/>
<polyline points="439.40,105.00 439.55,104.33" stroke="#f45a62" stroke-width="0.75" fill="none" stroke-linejoin="round"/>
<polyline points="440.30,101.00 441.30,100.05 442.40,99.00 442.70,98.89 445.30,97.90 447.50,97.06 449.50,96.30 450.10,95.81 451.60,94.60 451.90,93.56 452.40,91.84 452.70,90.80 454.10,90.29 455.80,89.67 457.10,89.20 457.60,89.95 459.30,92.50 460.40,95.13 460.80,96.08" stroke="#f45a62" stroke-width="0.75" fill="none" stroke-linejoin="round"/>
<polyline points="494.80,107.44 495.20,105.73 495.70,103.59 497.00,98.01 497.40,96.30 500.60,95.03 501.70,94.60 503.40,94.83 505.50,95.12 506.05,95.19" stroke="#f45a62" stroke-width="0.75" fill="none" stroke-linejoin="round"/>
<polyline points="319.80,119.80 320.20,125.10 321.50,126.80 324.10,128.60 325.80,130.48 327.60,133.80 329.80,137.60 331.90,137.62 333.70,137.64 335.40,137.66 336.70,137.68 338.50,137.70 338.90,137.70 339.80,137.30 342.00,142.50 344.10,148.60 344.60,149.20 345.50,149.26 346.30,149.31 347.20,149.36 348.50,149.44 349.40,149.50 349.80,149.57 351.60,149.91 353.70,150.30 354.60,150.40 355.00,149.50 355.50,145.00 356.30,140.20 356.60,138.40 358.20,128.80 358.80,125.20 359.80,124.20 360.00,124.00 360.90,116.80 361.50,112.00 362.40,104.80 362.50,104.57 363.20,103.00 364.10,100.97 365.20,98.50 365.60,97.60 366.80,96.54 367.90,95.56 368.80,94.77 369.10,94.50 369.50,94.31 370.20,93.97 371.30,93.43 372.40,92.90 372.90,93.04 374.50,93.50 376.20,97.30 377.80,101.60 379.50,106.00 381.60,110.40 384.40,115.80 386.50,120.30 388.70,124.10 390.90,127.90 393.60,131.20 395.30,135.50 397.50,136.60 400.20,136.60 402.90,138.80 405.60,142.60 408.00,147.10 411.50,152.40 412.20,152.24 413.00,152.05 414.50,151.70 416.40,151.10 418.30,150.50 418.70,150.36 420.20,149.83 421.40,149.40 422.10,149.66 423.30,150.10 424.40,153.20 424.80,154.00 425.60,152.92 427.10,150.90 428.60,149.40 430.10,150.64 430.90,151.30 431.70,151.47 432.80,151.70 434.00,150.68 434.70,150.08 435.50,149.40 436.40,141.71 436.60,140.00 437.10,133.71 438.40,117.37 439.20,107.31 439.40,104.80 440.60,100.00 441.30,98.13 442.40,95.20 442.70,95.09 445.30,94.10 447.50,93.26 449.50,92.50 450.10,92.01 451.60,90.80 451.90,89.90 452.40,88.40 452.70,87.50 454.10,86.48 454.90,85.90 455.80,85.90 457.10,85.90 457.60,86.93 458.70,89.20 459.30,90.90 460.00,92.89 460.40,94.60 462.00,100.10 463.60,102.30 464.70,102.30 468.00,101.94 470.20,101.70 470.70,101.66 473.50,102.30 476.20,101.28 477.30,101.20 478.80,101.06 480.50,100.90 482.10,100.75 483.70,100.60 484.30,100.60 485.90,103.40 489.20,105.50 492.50,107.70 494.60,108.30 495.20,104.26 495.70,100.90 496.80,93.50 497.00,93.44 498.50,93.00 500.60,92.28 501.70,91.90 503.40,92.21 505.00,92.93 505.50,94.10 507.70,97.90 511.00,100.60 514.30,102.80 518.60,104.50 523.00,106.10 526.30,107.70 530.60,110.50 533.40,113.00" stroke="#a179c5" stroke-width="0.75" fill="none" stroke-linejoin="round"/>
<g fill="#2b88cc"><circle cx="358.50" cy="141.95" r="0.95"/><circle cx="365.48" cy="122.03" r="0.95"/><circle cx="372.46" cy="117.49" r="0.95"/><circle cx="379.44" cy="116.51" r="0.95"/><circle cx="414.34" cy="152.29" r="0.95"/><circle cx="421.32" cy="152.00" r="0.95"/><circle cx="428.30" cy="153.51" r="0.95"/><circle cx="435.28" cy="151.91" r="0.95"/><circle cx="442.26" cy="121.21" r="0.95"/><circle cx="449.24" cy="117.58" r="0.95"/><circle cx="456.22" cy="111.12" r="0.95"/><circle cx="463.20" cy="110.53" r="0.95"/><circle cx="470.18" cy="110.22" r="0.95"/><circle cx="477.16" cy="109.75" r="0.95"/><circle cx="484.14" cy="109.43" r="0.95"/><circle cx="491.12" cy="109.40" r="0.95"/><circle cx="498.10" cy="104.74" r="0.95"/><circle cx="505.08" cy="104.22" r="0.95"/><circle cx="512.06" cy="103.92" r="0.95"/></g>
<g fill="#ff7f0e"><circle cx="358.50" cy="137.12" r="0.95"/><circle cx="365.48" cy="114.46" r="0.95"/><circle cx="372.46" cy="107.16" r="0.95"/><circle cx="379.44" cy="106.05" r="0.95"/><circle cx="414.34" cy="152.21" r="0.95"/><circle cx="421.32" cy="151.02" r="0.95"/><circle cx="428.30" cy="151.48" r="0.95"/><circle cx="435.28" cy="151.08" r="0.95"/><circle cx="442.26" cy="110.79" r="0.95"/><circle cx="449.24" cy="106.78" r="0.95"/><circle cx="456.22" cy="100.58" r="0.95"/><circle cx="470.18" cy="102.00" r="0.95"/><circle cx="477.16" cy="101.61" r="0.95"/><circle cx="484.14" cy="100.97" r="0.95"/><circle cx="498.10" cy="101.18" r="0.95"/><circle cx="505.08" cy="100.35" r="0.95"/></g>
<g fill="#2ca02c"><circle cx="358.50" cy="133.50" r="0.95"/><circle cx="365.48" cy="107.10" r="0.95"/><circle cx="372.46" cy="101.02" r="0.95"/><circle cx="414.34" cy="152.02" r="0.95"/><circle cx="421.32" cy="150.32" r="0.95"/><circle cx="428.30" cy="150.82" r="0.95"/><circle cx="435.28" cy="150.34" r="0.95"/><circle cx="442.26" cy="104.09" r="0.95"/><circle cx="449.24" cy="100.71" r="0.95"/><circle cx="456.22" cy="94.32" r="0.95"/><circle cx="477.16" cy="101.41" r="0.95"/><circle cx="498.10" cy="98.44" r="0.95"/><circle cx="505.08" cy="97.40" r="0.95"/></g>
<g fill="#f0141e"><circle cx="358.50" cy="130.16" r="0.95"/><circle cx="365.48" cy="101.77" r="0.95"/><circle cx="372.46" cy="96.41" r="0.95"/><circle cx="421.32" cy="149.83" r="0.95"/><circle cx="428.30" cy="150.24" r="0.95"/><circle cx="435.28" cy="149.96" r="0.95"/><circle cx="442.26" cy="99.13" r="0.95"/><circle cx="449.24" cy="96.40" r="0.95"/><circle cx="456.22" cy="89.52" r="0.95"/><circle cx="498.10" cy="96.02" r="0.95"/><circle cx="505.08" cy="95.06" r="0.95"/></g>
<g fill="#9467bd"><circle cx="323.60" cy="128.25" r="0.95"/><circle cx="330.58" cy="137.61" r="0.95"/><circle cx="337.56" cy="137.69" r="0.95"/><circle cx="344.54" cy="149.13" r="0.95"/><circle cx="351.52" cy="149.89" r="0.95"/><circle cx="358.50" cy="127.00" r="0.95"/><circle cx="365.48" cy="97.87" r="0.95"/><circle cx="372.46" cy="92.92" r="0.95"/><circle cx="379.44" cy="105.84" r="0.95"/><circle cx="386.42" cy="120.13" r="0.95"/><circle cx="393.40" cy="130.96" r="0.95"/><circle cx="400.38" cy="136.75" r="0.95"/><circle cx="407.36" cy="145.90" r="0.95"/><circle cx="414.34" cy="151.74" r="0.95"/><circle cx="421.32" cy="149.43" r="0.95"/><circle cx="428.30" cy="149.70" r="0.95"/><circle cx="435.28" cy="149.59" r="0.95"/><circle cx="442.26" cy="95.57" r="0.95"/><circle cx="449.24" cy="92.60" r="0.95"/><circle cx="456.22" cy="85.90" r="0.95"/><circle cx="463.20" cy="101.75" r="0.95"/><circle cx="470.18" cy="101.70" r="0.95"/><circle cx="477.16" cy="101.21" r="0.95"/><circle cx="484.14" cy="100.60" r="0.95"/><circle cx="491.12" cy="106.78" r="0.95"/><circle cx="498.10" cy="93.12" r="0.95"/><circle cx="505.08" cy="93.12" r="0.95"/><circle cx="512.06" cy="101.31" r="0.95"/><circle cx="519.04" cy="104.66" r="0.95"/><circle cx="526.02" cy="107.56" r="0.95"/><circle cx="533.00" cy="112.64" r="0.95"/></g>
</g>
<rect x="480.70" y="146.80" width="50.80" height="33.30" rx="0.8" fill="#fff" fill-opacity="0.85" stroke="#ddd" stroke-width="0.5"/>
<path d="M482.90,149.80h6.6" stroke="#555" stroke-width="0.8"/>
<path d="M482.90,155.15h6.6" stroke="#2b88cc" stroke-width="0.8" stroke-dasharray="1.6,0.8"/>
<g fill="#2b88cc"><circle cx="483.30" cy="155.15" r="0.9"/><circle cx="486.20" cy="155.15" r="0.9"/><circle cx="489.10" cy="155.15" r="0.9"/></g>
<path d="M482.90,160.50h6.6" stroke="#ff7f0e" stroke-width="0.8" stroke-dasharray="1.6,0.8"/>
<g fill="#ff7f0e"><circle cx="483.30" cy="160.50" r="0.9"/><circle cx="486.20" cy="160.50" r="0.9"/><circle cx="489.10" cy="160.50" r="0.9"/></g>
<path d="M482.90,165.85h6.6" stroke="#2ca02c" stroke-width="0.8" stroke-dasharray="1.6,0.8"/>
<g fill="#2ca02c"><circle cx="483.30" cy="165.85" r="0.9"/><circle cx="486.20" cy="165.85" r="0.9"/><circle cx="489.10" cy="165.85" r="0.9"/></g>
<path d="M482.90,171.20h6.6" stroke="#f0141e" stroke-width="0.8" stroke-dasharray="1.6,0.8"/>
<g fill="#f0141e"><circle cx="483.30" cy="171.20" r="0.9"/><circle cx="486.20" cy="171.20" r="0.9"/><circle cx="489.10" cy="171.20" r="0.9"/></g>
<path d="M482.90,176.55h6.6" stroke="#9467bd" stroke-width="0.8" stroke-dasharray="1.6,0.8"/>
<g fill="#9467bd"><circle cx="483.30" cy="176.55" r="0.9"/><circle cx="486.20" cy="176.55" r="0.9"/><circle cx="489.10" cy="176.55" r="0.9"/></g>
<text transform="translate(493.20,151.20) scale(0.5)" class="lg">Stream flow</text>
<text transform="translate(493.20,156.55) scale(0.5)" class="lg">Base flow with 0.003</text>
<text transform="translate(493.20,161.90) scale(0.5)" class="lg">Base flow with 0.006</text>
<text transform="translate(493.20,167.25) scale(0.5)" class="lg">Base flow with 0.009</text>
<text transform="translate(493.20,172.60) scale(0.5)" class="lg">Base flow with 0.012</text>
<text transform="translate(493.20,177.95) scale(0.5)" class="lg">Base flow with 0.015</text>
<rect x="319.80" y="12.70" width="213.60" height="169.70" fill="none" stroke="#888" stroke-width="0.8"/>
<text x="137.85" y="240.70" class="t" text-anchor="middle">EWMA-Daegusi(Ansimgyo)-2018</text>
<path d="M30.40,410.27H31.20M30.40,408.09H31.20M30.40,406.16H31.20M29.80,404.43H31.20M30.40,393.07H31.20M30.40,386.43H31.20M30.40,381.71H31.20M30.40,378.06H31.20M30.40,375.07H31.20M30.40,372.54H31.20M30.40,370.36H31.20M30.40,368.43H31.20M29.80,366.70H31.20M30.40,355.34H31.20M30.40,348.70H31.20M30.40,343.98H31.20M30.40,340.33H31.20M30.40,337.34H31.20M30.40,334.81H31.20M30.40,332.63H31.20M30.40,330.70H31.20M29.80,328.97H31.20M30.40,317.61H31.20M30.40,310.97H31.20M30.40,306.25H31.20M30.40,302.60H31.20M30.40,299.61H31.20M30.40,297.08H31.20M30.40,294.90H31.20M30.40,292.97H31.20M29.80,291.24H31.20M30.40,279.88H31.20M30.40,273.24H31.20M30.40,268.52H31.20M30.40,264.87H31.20M30.40,261.88H31.20M30.40,259.35H31.20M30.40,257.17H31.20M30.40,255.24H31.20M29.80,253.51H31.20M31.20,412.40V413.80M73.02,412.40V413.80M116.24,412.40V413.80M159.46,412.40V413.80M201.28,412.40V413.80M244.50,412.40V413.80" stroke="#333" stroke-width="0.5" fill="none"/>
<text transform="translate(28.40,406.73) scale(1,1.1)" class="tk" text-anchor="end">0.1</text>
<text transform="translate(28.40,369.00) scale(1,1.1)" class="tk" text-anchor="end">1</text>
<text transform="translate(28.40,331.27) scale(1,1.1)" class="tk" text-anchor="end">10</text>
<text transform="translate(28.40,293.54) scale(1,1.1)" class="tk" text-anchor="end">100</text>
<text transform="translate(28.40,255.81) scale(1,1.1)" class="tk" text-anchor="end">1000</text>
<text transform="translate(31.20,419.30) scale(1,1.1)" class="tk" text-anchor="middle">2018-06-01</text>
<text transform="translate(73.02,419.30) scale(1,1.1)" class="tk" text-anchor="middle">2018-07-01</text>
<text transform="translate(116.24,419.30) scale(1,1.1)" class="tk" text-anchor="middle">2018-08-01</text>
<text transform="translate(159.46,419.30) scale(1,1.1)" class="tk" text-anchor="middle">2018-09-01</text>
<text transform="translate(201.28,419.30) scale(1,1.1)" class="tk" text-anchor="middle">2018-10-01</text>
<text transform="translate(244.50,419.30) scale(1,1.1)" class="tk" text-anchor="middle">2018-11-01</text>
<text x="137.85" y="426.90" class="xl" text-anchor="middle">Date (year-month)</text>
<text transform="translate(16.20,327.65) rotate(-90)" class="xl" text-anchor="middle">Flow rate (m<tspan font-size="5.6" dy="-2.9">3</tspan><tspan dy="2.9">/s)</tspan></text>
<text x="134.40" y="452.00" class="cap" text-anchor="middle">(c)</text>
<g clip-path="url(#clipc)">
<polyline points="31.20,327.80 32.00,332.70 33.30,332.20 34.90,330.30 36.00,332.20 38.70,332.20 40.40,333.80 42.00,334.90 43.60,334.90 46.40,326.20 48.50,330.50 50.70,333.80 52.90,335.50 55.10,337.10 56.20,337.86" stroke="#1a1a1a" stroke-width="0.8" fill="none" stroke-linejoin="round"/>
<polyline points="56.20,337.86 56.70,338.20 56.95,337.55" stroke="#1a1a1a" stroke-width="0.8" fill="none" stroke-linejoin="round" stroke-opacity="0.3"/>
<polyline points="56.95,337.55 58.40,333.80 60.50,332.70 62.70,333.80 64.90,334.90 66.00,332.70 67.10,310.00 68.70,292.20 70.40,301.50 71.50,309.10 73.10,281.80 74.20,268.20 75.30,276.40 76.40,272.00 78.00,270.40 79.10,273.10 80.70,284.00 82.40,296.00 84.00,304.40 85.60,304.90 87.20,304.30 89.90,306.50 92.60,308.60 94.20,310.67" stroke="#1a1a1a" stroke-width="0.8" fill="none" stroke-linejoin="round"/>
<polyline points="94.20,310.67 94.30,310.80 95.40,316.80 96.50,329.90 99.20,331.50 103.50,333.70 105.20,339.70 105.45,339.28" stroke="#1a1a1a" stroke-width="0.8" fill="none" stroke-linejoin="round" stroke-opacity="0.3"/>
<polyline points="105.45,339.28 106.80,337.00 109.00,336.20 112.80,336.50 115.00,338.10 116.45,339.82" stroke="#1a1a1a" stroke-width="0.8" fill="none" stroke-linejoin="round"/>
<polyline points="116.45,339.82 116.60,340.00 123.20,340.00 123.45,338.70" stroke="#1a1a1a" stroke-width="0.8" fill="none" stroke-linejoin="round" stroke-opacity="0.3"/>
<polyline points="123.45,338.70 124.30,334.30 125.90,328.30 127.00,329.90 128.60,312.50 129.70,313.00 133.00,325.50 135.40,330.50 136.80,316.80 137.40,310.30 139.00,316.80 141.20,326.60 143.40,331.50 145.50,333.20 147.10,327.20 148.70,327.70 150.40,322.30 152.50,266.50 154.70,295.00 156.40,305.00 158.00,308.60 159.60,303.70 162.40,311.40 163.50,300.50 164.50,291.50 165.60,296.00 167.30,305.00 167.80,308.10 170.50,314.60 172.70,320.10 173.45,322.15" stroke="#1a1a1a" stroke-width="0.8" fill="none" stroke-linejoin="round"/>
<polyline points="173.45,322.15 174.90,326.10 177.10,327.20 177.20,326.98" stroke="#1a1a1a" stroke-width="0.8" fill="none" stroke-linejoin="round" stroke-opacity="0.3"/>
<polyline points="177.20,326.98 179.80,321.20 182.00,322.80 184.70,326.60 186.40,324.50 188.00,305.00 189.10,295.40 190.20,300.50 191.10,307.00 193.30,314.60 195.50,319.50 197.60,322.80 199.45,324.65" stroke="#1a1a1a" stroke-width="0.8" fill="none" stroke-linejoin="round"/>
<polyline points="199.45,324.65 200.90,326.10 203.60,329.40 205.80,331.50 206.90,327.70 206.95,325.27" stroke="#1a1a1a" stroke-width="0.8" fill="none" stroke-linejoin="round" stroke-opacity="0.3"/>
<polyline points="206.95,325.27 208.40,254.90 210.20,290.00 211.80,301.50 213.50,307.00 215.60,312.50 216.70,315.20" stroke="#1a1a1a" stroke-width="0.8" fill="none" stroke-linejoin="round"/>
<polyline points="216.70,315.20 217.80,317.90 220.00,322.30 222.20,326.10 224.90,331.00 227.10,330.50 229.30,331.50 232.50,332.60 235.80,333.20 238.50,332.60 240.70,333.70 242.90,336.50 244.50,332.10" stroke="#1a1a1a" stroke-width="0.8" fill="none" stroke-linejoin="round" stroke-opacity="0.3"/>
<polyline points="31.20,340.60 32.00,340.60 33.30,340.60 34.90,340.60 36.00,340.60 38.70,340.60 40.40,340.60 42.00,340.55 43.60,340.51 46.40,340.43 47.50,340.40 48.50,340.36 50.70,340.26 52.90,340.17 54.50,340.10 55.10,340.10 56.70,340.10 58.40,340.10 60.50,340.10 61.60,340.10 62.70,339.87 64.90,339.40 66.00,339.17 67.10,338.93 68.20,338.70 68.70,338.51 70.40,337.88 71.50,337.47 72.50,337.10 73.10,336.50 74.20,335.40 75.30,334.30 75.80,333.80 76.40,333.11 78.00,331.27 79.10,330.00 80.70,329.08 82.40,328.10 84.00,327.89 85.60,327.69 87.20,327.48 89.40,327.20 89.90,327.20 92.60,327.20 94.30,327.20 95.40,327.20 96.50,329.90" stroke="#6bacdb" stroke-width="0.75" fill="none" stroke-linejoin="round"/>
<polyline points="124.20,339.96 124.30,339.96 125.90,339.90 127.00,339.86 128.60,339.80 129.70,339.76 131.40,339.70 133.00,339.59 135.40,339.42 136.80,339.32 137.40,339.28 138.50,339.20 139.00,339.15 141.20,338.95 143.40,338.75 145.00,338.60 145.50,338.56 147.10,338.42 148.70,338.29 150.40,338.14 150.90,338.10 152.50,334.80 154.70,334.12 156.40,333.59 158.00,333.10 159.60,332.60 162.40,332.01 163.50,331.77 164.50,331.56 165.60,331.33 166.20,331.20 167.30,331.09 167.80,331.04 170.50,330.78 172.70,330.56 173.30,330.50 174.90,330.50 177.10,330.50 179.80,330.50 180.40,330.50 182.00,330.41 184.70,330.26 186.40,330.16 187.50,330.10 188.00,330.07 189.10,330.01 190.20,329.95 191.10,329.89 193.30,329.77 194.50,329.70 195.50,329.66 197.60,329.57 200.90,329.43 201.50,329.40 203.45,329.40" stroke="#6bacdb" stroke-width="0.75" fill="none" stroke-linejoin="round"/>
<polyline points="206.95,327.69 208.00,327.50 208.40,327.42 210.20,327.07 211.80,326.75 213.50,326.42 215.10,326.10 215.60,326.10 217.80,326.10 220.00,326.10 221.60,326.10 222.20,326.10" stroke="#6bacdb" stroke-width="0.75" fill="none" stroke-linejoin="round"/>
<polyline points="31.20,335.80 32.00,335.86 33.30,335.96 33.80,336.00 34.90,336.03 36.00,336.07 38.70,336.15 40.40,336.20 42.00,336.20 43.60,336.20 46.40,336.20 47.50,336.20 48.50,336.27 50.70,336.42 51.80,336.50 52.90,336.93 55.10,337.80" stroke="#ffa556" stroke-width="0.75" fill="none" stroke-linejoin="round"/>
<polyline points="58.45,338.40 60.50,338.43 62.70,338.46 64.90,338.49 66.00,338.50 67.10,337.95 68.70,337.15 70.00,336.50 70.40,336.26 71.50,335.60 72.50,335.00 73.10,333.69 74.20,331.29 75.30,328.89 75.80,327.80 76.40,326.95 78.00,324.67 79.10,323.11 79.60,322.40 80.70,321.73 82.40,320.70 84.00,320.52 85.60,320.33 87.20,320.15 89.40,319.90 89.90,319.86 92.60,319.64 94.30,319.50 95.40,319.23 95.60,319.18" stroke="#ffa556" stroke-width="0.75" fill="none" stroke-linejoin="round"/>
<polyline points="124.95,339.79 125.90,339.67 126.50,339.60 127.00,339.49 128.60,339.13 129.70,338.88 131.40,338.50 133.00,338.23 135.40,337.82 136.80,337.59 137.40,337.49 138.50,337.30 139.00,337.25 141.20,337.01 143.40,336.77 145.00,336.60 145.50,336.51 147.10,336.21 148.70,335.91 150.40,335.59 150.90,335.50 152.50,330.50 154.70,329.57 156.40,328.85 158.00,328.18 159.60,327.50 162.40,326.57 163.50,326.20 164.50,325.87 165.60,325.50 166.20,325.30 167.30,325.20 167.80,325.15 170.50,324.90 172.70,324.70 173.80,323.10" stroke="#ffa556" stroke-width="0.75" fill="none" stroke-linejoin="round"/>
<polyline points="179.45,327.41 179.80,327.45 180.40,327.50 182.00,327.43 184.70,327.30 186.40,327.22 186.90,327.20 188.00,326.90 189.10,326.60 190.20,326.30 191.10,326.05 191.30,326.00 193.30,326.06 194.50,326.10 195.50,326.08 197.60,326.03 198.70,326.00 200.20,325.53" stroke="#ffa556" stroke-width="0.75" fill="none" stroke-linejoin="round"/>
<polyline points="206.95,327.53 208.00,323.90 208.40,323.77 210.20,323.21 211.80,322.70 213.50,322.16 215.60,321.50 217.80,321.39 219.45,321.30" stroke="#ffa556" stroke-width="0.75" fill="none" stroke-linejoin="round"/>
<polyline points="31.20,335.30 32.00,335.34 33.30,335.40 34.90,335.49 36.00,335.55 38.70,335.70 40.40,335.80 42.00,335.80 43.60,335.80 46.40,335.80 47.50,335.80 48.50,335.89 50.70,336.10 51.80,336.20" stroke="#6bbc6b" stroke-width="0.75" fill="none" stroke-linejoin="round"/>
<polyline points="66.20,338.23 67.10,337.46 68.70,336.11 70.00,335.00 70.40,334.68 71.50,333.80 72.50,333.00 73.10,331.56 74.20,328.93 75.30,326.30 75.80,325.10 76.40,323.81 78.00,320.37 79.10,318.00 80.70,317.22 82.40,316.40 84.00,316.13 85.60,315.85 87.20,315.58 89.40,315.20 89.90,315.18 92.60,315.07 94.30,315.00 95.20,315.71" stroke="#6bbc6b" stroke-width="0.75" fill="none" stroke-linejoin="round"/>
<polyline points="125.45,339.66 125.90,339.59 126.50,339.50 127.00,339.35 128.60,338.86 129.70,338.52 131.40,338.00 133.00,337.68 135.40,337.21 136.80,336.94 137.40,336.82 138.50,336.60 139.00,336.54 141.20,336.27 143.40,336.00 145.00,335.80 145.50,335.69 147.10,335.34 148.70,334.98 150.40,334.61 150.90,334.50 152.50,326.60 154.70,325.67 156.40,324.95 158.00,324.28 159.60,323.60 162.40,322.58 163.50,322.18 164.50,321.82 165.60,321.42 166.20,321.20 167.30,321.20 167.80,321.20 170.50,321.20 172.20,321.20" stroke="#6bbc6b" stroke-width="0.75" fill="none" stroke-linejoin="round"/>
<polyline points="172.45,321.20 172.70,321.20 173.70,322.93" stroke="#6bbc6b" stroke-width="0.75" fill="none" stroke-linejoin="round"/>
<polyline points="180.45,327.40 182.00,327.30 184.70,327.14 186.40,327.03 186.90,327.00 188.00,326.57 189.10,326.15 190.20,325.73 191.10,325.38 191.30,325.30 193.30,324.98 194.40,324.80 195.50,324.90 197.60,325.10 198.70,325.20 199.70,325.02" stroke="#6bbc6b" stroke-width="0.75" fill="none" stroke-linejoin="round"/>
<polyline points="206.95,327.38 208.00,320.60 208.40,320.47 210.20,319.91 211.80,319.40 213.50,318.86 215.60,318.20 217.80,319.47 218.90,320.10" stroke="#6bbc6b" stroke-width="0.75" fill="none" stroke-linejoin="round"/>
<polyline points="66.20,338.05 67.10,336.95 68.70,334.98 69.50,334.00 70.40,333.25 71.50,332.33 72.50,331.50 73.10,329.74 74.20,326.50 75.30,323.27 75.80,321.80 76.40,320.11 78.00,315.61 78.50,314.20 79.10,313.94 80.70,313.24 82.40,312.50 84.00,312.36 85.60,312.23 87.20,312.09 89.40,311.90 89.90,311.91 92.60,311.97 94.30,312.00 94.80,313.53" stroke="#f45a62" stroke-width="0.75" fill="none" stroke-linejoin="round"/>
<polyline points="126.70,339.32 127.00,339.21 128.60,338.59 129.70,338.16 131.40,337.50 133.00,337.16 135.40,336.65 136.80,336.36 137.40,336.23 138.50,336.00 139.00,335.94 141.20,335.67 143.40,335.40 145.00,335.20 145.50,335.06 147.10,334.59 148.70,334.13 150.40,333.64 150.90,333.50 152.50,323.90 154.70,322.88 156.40,322.09 158.00,321.34 159.60,320.60 162.40,319.45 163.50,319.00 164.50,318.60 165.60,318.15 166.20,317.90 167.30,318.02 167.80,318.08 170.50,318.38 171.60,318.50 172.70,320.54 173.20,321.46 173.45,322.15" stroke="#f45a62" stroke-width="0.75" fill="none" stroke-linejoin="round"/>
<polyline points="186.95,326.78 188.00,326.30 189.10,325.80 190.20,325.30 191.10,324.89 191.30,324.80 193.30,324.41 194.40,324.20 195.50,324.35 197.60,324.65 198.70,324.80 199.20,324.74" stroke="#f45a62" stroke-width="0.75" fill="none" stroke-linejoin="round"/>
<polyline points="207.20,325.03 208.00,317.90 208.40,317.77 210.20,317.21 211.80,316.70 213.50,316.16 215.60,315.50 217.60,317.41" stroke="#f45a62" stroke-width="0.75" fill="none" stroke-linejoin="round"/>
<polyline points="31.20,334.90 32.00,334.98 33.30,335.10 34.90,335.19 36.00,335.25 38.70,335.40 40.40,335.50 42.00,335.50 43.60,335.50 46.40,335.50 47.50,335.50 48.50,335.62 50.70,335.87 51.80,336.00 52.90,336.53 55.10,337.60 56.70,338.20 58.40,338.20 60.50,338.20 62.20,338.20 62.70,338.20 64.90,338.20 66.00,338.20 67.10,336.20 68.70,333.29 69.30,332.20 70.40,331.27 71.50,330.34 72.50,329.50 73.10,327.40 74.20,323.55 74.70,321.80 75.30,320.00 75.80,318.50 76.40,316.73 78.00,312.00 79.10,311.45 80.70,310.65 82.40,309.80 84.00,309.66 85.60,309.53 87.20,309.39 89.40,309.20 89.90,309.31 92.60,309.92 94.30,310.80 94.60,312.44 95.40,316.80 96.50,329.90 99.20,331.50 103.50,333.70 105.20,339.70 106.80,339.74 109.00,339.80 112.80,339.90 115.00,339.96 116.60,340.00 123.20,340.00 124.30,339.73 125.90,339.35 126.50,339.20 127.00,338.98 128.60,338.26 129.70,337.76 131.40,337.00 133.00,336.64 135.40,336.10 136.80,335.78 137.40,335.65 138.50,335.40 139.00,335.33 141.20,335.03 143.40,334.72 145.00,334.50 145.50,334.34 147.10,333.82 148.70,333.31 150.40,332.76 150.90,332.60 152.50,321.20 154.70,320.18 156.40,319.39 158.00,318.64 159.60,317.90 162.40,316.75 163.50,316.30 164.50,315.90 165.60,315.45 166.20,315.20 167.30,315.37 167.80,315.44 169.50,315.70 170.50,317.76 172.70,322.30 173.30,321.74 174.90,326.10 177.10,327.20 179.80,327.20 180.40,327.20 182.00,327.05 184.70,326.80 186.40,326.65 186.90,326.60 188.00,326.08 189.10,325.55 190.20,325.03 191.10,324.60 191.30,324.50 193.30,324.11 194.40,323.90 195.50,324.05 197.60,324.35 198.70,324.50 199.50,324.70 200.90,326.10 203.60,329.40 205.80,331.50 206.90,327.70 208.00,315.70 208.40,315.45 210.20,314.31 211.80,313.30 213.50,313.17 215.60,313.00 217.30,316.67 217.80,317.90 220.00,322.30 222.20,326.10 224.90,331.00 227.10,330.50 229.30,331.50 232.50,332.60 235.80,333.20 238.50,332.60 240.70,333.70 242.90,336.50 244.50,332.10" stroke="#a179c5" stroke-width="0.75" fill="none" stroke-linejoin="round"/>
<g fill="#2b88cc"><circle cx="33.80" cy="340.60" r="0.95"/><circle cx="40.77" cy="340.59" r="0.95"/><circle cx="47.74" cy="340.39" r="0.95"/><circle cx="54.71" cy="340.10" r="0.95"/><circle cx="61.68" cy="340.08" r="0.95"/><circle cx="68.65" cy="338.53" r="0.95"/><circle cx="75.62" cy="333.98" r="0.95"/><circle cx="82.59" cy="328.08" r="0.95"/><circle cx="89.56" cy="327.20" r="0.95"/><circle cx="124.41" cy="339.96" r="0.95"/><circle cx="131.38" cy="339.70" r="0.95"/><circle cx="138.35" cy="339.21" r="0.95"/><circle cx="145.32" cy="338.57" r="0.95"/><circle cx="152.29" cy="335.23" r="0.95"/><circle cx="159.26" cy="332.71" r="0.95"/><circle cx="166.23" cy="331.20" r="0.95"/><circle cx="173.20" cy="330.51" r="0.95"/><circle cx="180.17" cy="330.50" r="0.95"/><circle cx="187.14" cy="330.12" r="0.95"/><circle cx="194.11" cy="329.72" r="0.95"/><circle cx="201.08" cy="329.42" r="0.95"/><circle cx="208.05" cy="327.49" r="0.95"/><circle cx="215.02" cy="326.12" r="0.95"/><circle cx="221.99" cy="326.10" r="0.95"/></g>
<g fill="#ff7f0e"><circle cx="33.80" cy="336.00" r="0.95"/><circle cx="40.77" cy="336.20" r="0.95"/><circle cx="47.74" cy="336.22" r="0.95"/><circle cx="54.71" cy="337.65" r="0.95"/><circle cx="61.68" cy="338.44" r="0.95"/><circle cx="68.65" cy="337.17" r="0.95"/><circle cx="75.62" cy="328.19" r="0.95"/><circle cx="82.59" cy="320.68" r="0.95"/><circle cx="89.56" cy="319.89" r="0.95"/><circle cx="131.38" cy="338.50" r="0.95"/><circle cx="138.35" cy="337.33" r="0.95"/><circle cx="145.32" cy="336.54" r="0.95"/><circle cx="152.29" cy="331.16" r="0.95"/><circle cx="159.26" cy="327.64" r="0.95"/><circle cx="166.23" cy="325.30" r="0.95"/><circle cx="173.20" cy="323.97" r="0.95"/><circle cx="180.17" cy="327.48" r="0.95"/><circle cx="187.14" cy="327.13" r="0.95"/><circle cx="194.11" cy="326.09" r="0.95"/><circle cx="208.05" cy="323.88" r="0.95"/><circle cx="215.02" cy="321.68" r="0.95"/></g>
<g fill="#2ca02c"><circle cx="33.80" cy="335.43" r="0.95"/><circle cx="40.77" cy="335.80" r="0.95"/><circle cx="47.74" cy="335.82" r="0.95"/><circle cx="68.65" cy="336.15" r="0.95"/><circle cx="75.62" cy="325.53" r="0.95"/><circle cx="82.59" cy="316.37" r="0.95"/><circle cx="89.56" cy="315.19" r="0.95"/><circle cx="131.38" cy="338.01" r="0.95"/><circle cx="138.35" cy="336.63" r="0.95"/><circle cx="145.32" cy="335.73" r="0.95"/><circle cx="152.29" cy="327.64" r="0.95"/><circle cx="159.26" cy="323.74" r="0.95"/><circle cx="166.23" cy="321.20" r="0.95"/><circle cx="173.20" cy="322.06" r="0.95"/><circle cx="187.14" cy="326.91" r="0.95"/><circle cx="194.11" cy="324.85" r="0.95"/><circle cx="208.05" cy="320.58" r="0.95"/><circle cx="215.02" cy="318.38" r="0.95"/></g>
<g fill="#f0141e"><circle cx="68.65" cy="335.04" r="0.95"/><circle cx="75.62" cy="322.33" r="0.95"/><circle cx="82.59" cy="312.48" r="0.95"/><circle cx="89.56" cy="311.90" r="0.95"/><circle cx="131.38" cy="337.51" r="0.95"/><circle cx="138.35" cy="336.03" r="0.95"/><circle cx="145.32" cy="335.11" r="0.95"/><circle cx="152.29" cy="325.16" r="0.95"/><circle cx="159.26" cy="320.76" r="0.95"/><circle cx="166.23" cy="317.90" r="0.95"/><circle cx="173.20" cy="321.46" r="0.95"/><circle cx="187.14" cy="326.69" r="0.95"/><circle cx="194.11" cy="324.26" r="0.95"/><circle cx="208.05" cy="317.88" r="0.95"/><circle cx="215.02" cy="315.68" r="0.95"/></g>
<g fill="#9467bd"><circle cx="33.80" cy="335.13" r="0.95"/><circle cx="40.77" cy="335.50" r="0.95"/><circle cx="47.74" cy="335.53" r="0.95"/><circle cx="54.71" cy="337.41" r="0.95"/><circle cx="61.68" cy="338.20" r="0.95"/><circle cx="68.65" cy="333.38" r="0.95"/><circle cx="75.62" cy="319.04" r="0.95"/><circle cx="82.59" cy="309.78" r="0.95"/><circle cx="89.56" cy="309.24" r="0.95"/><circle cx="96.53" cy="329.92" r="0.95"/><circle cx="103.50" cy="333.70" r="0.95"/><circle cx="110.47" cy="339.84" r="0.95"/><circle cx="117.44" cy="340.00" r="0.95"/><circle cx="124.41" cy="339.71" r="0.95"/><circle cx="131.38" cy="337.01" r="0.95"/><circle cx="138.35" cy="335.43" r="0.95"/><circle cx="145.32" cy="334.40" r="0.95"/><circle cx="152.29" cy="322.70" r="0.95"/><circle cx="159.26" cy="318.06" r="0.95"/><circle cx="166.23" cy="315.20" r="0.95"/><circle cx="173.20" cy="321.83" r="0.95"/><circle cx="180.17" cy="327.20" r="0.95"/><circle cx="187.14" cy="326.49" r="0.95"/><circle cx="194.11" cy="323.96" r="0.95"/><circle cx="201.08" cy="326.32" r="0.95"/><circle cx="208.05" cy="315.67" r="0.95"/><circle cx="215.02" cy="313.05" r="0.95"/><circle cx="221.99" cy="325.74" r="0.95"/><circle cx="228.96" cy="331.35" r="0.95"/><circle cx="235.93" cy="333.17" r="0.95"/><circle cx="242.90" cy="336.50" r="0.95"/></g>
</g>
<rect x="32.90" y="376.80" width="51.30" height="33.60" rx="0.8" fill="#fff" fill-opacity="0.85" stroke="#ddd" stroke-width="0.5"/>
<path d="M35.10,379.80h6.6" stroke="#555" stroke-width="0.8"/>
<path d="M35.10,385.15h6.6" stroke="#2b88cc" stroke-width="0.8" stroke-dasharray="1.6,0.8"/>
<g fill="#2b88cc"><circle cx="35.50" cy="385.15" r="0.9"/><circle cx="38.40" cy="385.15" r="0.9"/><circle cx="41.30" cy="385.15" r="0.9"/></g>
<path d="M35.10,390.50h6.6" stroke="#ff7f0e" stroke-width="0.8" stroke-dasharray="1.6,0.8"/>
<g fill="#ff7f0e"><circle cx="35.50" cy="390.50" r="0.9"/><circle cx="38.40" cy="390.50" r="0.9"/><circle cx="41.30" cy="390.50" r="0.9"/></g>
<path d="M35.10,395.85h6.6" stroke="#2ca02c" stroke-width="0.8" stroke-dasharray="1.6,0.8"/>
<g fill="#2ca02c"><circle cx="35.50" cy="395.85" r="0.9"/><circle cx="38.40" cy="395.85" r="0.9"/><circle cx="41.30" cy="395.85" r="0.9"/></g>
<path d="M35.10,401.20h6.6" stroke="#f0141e" stroke-width="0.8" stroke-dasharray="1.6,0.8"/>
<g fill="#f0141e"><circle cx="35.50" cy="401.20" r="0.9"/><circle cx="38.40" cy="401.20" r="0.9"/><circle cx="41.30" cy="401.20" r="0.9"/></g>
<path d="M35.10,406.55h6.6" stroke="#9467bd" stroke-width="0.8" stroke-dasharray="1.6,0.8"/>
<g fill="#9467bd"><circle cx="35.50" cy="406.55" r="0.9"/><circle cx="38.40" cy="406.55" r="0.9"/><circle cx="41.30" cy="406.55" r="0.9"/></g>
<text transform="translate(45.40,381.20) scale(0.5)" class="lg">Stream flow</text>
<text transform="translate(45.40,386.55) scale(0.5)" class="lg">Base flow with 0.003</text>
<text transform="translate(45.40,391.90) scale(0.5)" class="lg">Base flow with 0.006</text>
<text transform="translate(45.40,397.25) scale(0.5)" class="lg">Base flow with 0.009</text>
<text transform="translate(45.40,402.60) scale(0.5)" class="lg">Base flow with 0.012</text>
<text transform="translate(45.40,407.95) scale(0.5)" class="lg">Base flow with 0.015</text>
<rect x="31.20" y="242.90" width="213.30" height="169.50" fill="none" stroke="#888" stroke-width="0.8"/>
<text x="426.65" y="241.20" class="t" text-anchor="middle">EWMA-Andongsi(Mukgyegyo)-2018</text>
<path d="M319.00,412.40H319.80M319.00,410.20H319.80M319.00,408.29H319.80M319.00,406.61H319.80M318.40,405.10H319.80M319.00,395.20H319.80M319.00,389.40H319.80M319.00,385.29H319.80M319.00,382.10H319.80M319.00,379.50H319.80M319.00,377.30H319.80M319.00,375.39H319.80M319.00,373.71H319.80M318.40,372.20H319.80M319.00,362.30H319.80M319.00,356.50H319.80M319.00,352.39H319.80M319.00,349.20H319.80M319.00,346.60H319.80M319.00,344.40H319.80M319.00,342.49H319.80M319.00,340.81H319.80M318.40,339.30H319.80M319.00,329.40H319.80M319.00,323.60H319.80M319.00,319.49H319.80M319.00,316.30H319.80M319.00,313.70H319.80M319.00,311.50H319.80M319.00,309.59H319.80M319.00,307.91H319.80M318.40,306.40H319.80M319.00,296.50H319.80M319.00,290.70H319.80M319.00,286.59H319.80M319.00,283.40H319.80M319.00,280.80H319.80M319.00,278.60H319.80M319.00,276.69H319.80M319.00,275.01H319.80M318.40,273.50H319.80M319.00,263.60H319.80M319.00,257.80H319.80M319.00,253.69H319.80M319.00,250.50H319.80M319.00,247.90H319.80M319.00,245.70H319.80M319.00,243.79H319.80M319.80,413.40V414.80M361.70,413.40V414.80M405.00,413.40V414.80M448.30,413.40V414.80M490.20,413.40V414.80M533.50,413.40V414.80" stroke="#333" stroke-width="0.5" fill="none"/>
<text transform="translate(317.00,407.40) scale(1,1.1)" class="tk" text-anchor="end">0.01</text>
<text transform="translate(317.00,374.50) scale(1,1.1)" class="tk" text-anchor="end">0.1</text>
<text transform="translate(317.00,341.60) scale(1,1.1)" class="tk" text-anchor="end">1</text>
<text transform="translate(317.00,308.70) scale(1,1.1)" class="tk" text-anchor="end">10</text>
<text transform="translate(317.00,275.80) scale(1,1.1)" class="tk" text-anchor="end">100</text>
<text transform="translate(319.80,420.30) scale(1,1.1)" class="tk" text-anchor="middle">2018-06-01</text>
<text transform="translate(361.70,420.30) scale(1,1.1)" class="tk" text-anchor="middle">2018-07-01</text>
<text transform="translate(405.00,420.30) scale(1,1.1)" class="tk" text-anchor="middle">2018-08-01</text>
<text transform="translate(448.30,420.30) scale(1,1.1)" class="tk" text-anchor="middle">2018-09-01</text>
<text transform="translate(490.20,420.30) scale(1,1.1)" class="tk" text-anchor="middle">2018-10-01</text>
<text transform="translate(533.50,420.30) scale(1,1.1)" class="tk" text-anchor="middle">2018-11-01</text>
<text x="426.65" y="427.90" class="xl" text-anchor="middle">Date (year-month)</text>
<text transform="translate(304.80,328.50) rotate(-90)" class="xl" text-anchor="middle">Flow rate (m<tspan font-size="5.6" dy="-2.9">3</tspan><tspan dy="2.9">/s)</tspan></text>
<text x="423.10" y="452.00" class="cap" text-anchor="middle" font-weight="bold">(d)</text>
<g clip-path="url(#clipd)">
<polyline points="319.80,337.30 321.30,338.60 324.00,340.00 328.90,340.00 334.40,339.50 334.90,338.60 336.00,342.70 337.60,346.00 340.90,347.60 342.80,349.10 344.80,348.60 347.70,351.60 350.20,353.50 352.20,357.00 354.10,362.40 354.60,364.30 355.10,359.40 355.30,347.64" stroke="#1a1a1a" stroke-width="0.8" fill="none" stroke-linejoin="round" stroke-opacity="0.3"/>
<polyline points="355.30,347.64 355.60,330.00 356.30,276.40 357.60,287.30 359.30,305.80 361.30,313.60 362.30,304.80 363.10,266.50 364.00,275.30 365.30,277.50 366.40,274.20 367.20,261.10 368.00,270.90 369.10,281.80 370.20,292.70 371.30,301.50 372.40,305.80 372.55,306.28" stroke="#1a1a1a" stroke-width="0.8" fill="none" stroke-linejoin="round"/>
<polyline points="372.55,306.28 373.00,307.70 373.30,306.72" stroke="#1a1a1a" stroke-width="0.8" fill="none" stroke-linejoin="round" stroke-opacity="0.3"/>
<polyline points="373.30,306.72 374.50,302.80 376.00,300.90 377.90,302.80 379.40,309.70" stroke="#1a1a1a" stroke-width="0.8" fill="none" stroke-linejoin="round"/>
<polyline points="379.40,309.70 379.90,314.60 380.40,321.50 381.40,327.40 383.30,332.30 386.30,337.20 389.40,338.30 393.70,339.40 395.40,340.50 398.10,347.00 400.80,352.50 402.50,360.10 403.50,366.10 405.05,365.55" stroke="#1a1a1a" stroke-width="0.8" fill="none" stroke-linejoin="round" stroke-opacity="0.3"/>
<polyline points="405.05,365.55 405.20,365.50 406.30,362.80 407.40,342.60 408.50,350.30 409.50,351.00 410.60,363.40 411.70,353.50 412.80,350.80 414.50,349.20 416.10,345.90 417.70,341.00 419.70,337.60 422.60,337.60 425.40,339.10 427.00,337.10 429.70,337.60 432.50,339.30 434.60,340.60 436.80,336.00 439.00,332.20 440.10,329.50 441.20,316.40 442.60,299.50 445.40,315.40 448.10,293.50 450.80,309.30 452.70,287.50 454.10,289.10 455.70,302.70 456.80,310.00 458.50,315.50 460.10,320.90 462.30,325.30 463.55,326.32" stroke="#1a1a1a" stroke-width="0.8" fill="none" stroke-linejoin="round"/>
<polyline points="463.55,326.32 465.00,327.50 467.20,330.70 469.40,332.40 471.50,334.50 473.20,338.90 474.30,337.30 474.55,334.74" stroke="#1a1a1a" stroke-width="0.8" fill="none" stroke-linejoin="round" stroke-opacity="0.3"/>
<polyline points="474.55,334.74 475.90,320.90 477.50,297.30 479.70,304.90 480.30,306.00 481.90,313.00 483.70,317.40 486.20,321.10 489.90,323.00 492.40,322.30 494.30,319.80 495.50,307.40 496.90,254.10 499.30,290.00 500.50,300.00 502.40,307.40 503.55,311.36" stroke="#1a1a1a" stroke-width="0.8" fill="none" stroke-linejoin="round"/>
<polyline points="503.55,311.36 504.20,313.60 506.10,319.20 508.60,323.60 512.30,327.90 516.00,332.30 519.10,334.80 522.90,337.20 526.00,338.50 529.10,342.20 531.60,345.30 533.50,347.80" stroke="#1a1a1a" stroke-width="0.8" fill="none" stroke-linejoin="round" stroke-opacity="0.3"/>
<polyline points="354.80,362.73 355.10,360.37 355.60,356.43 356.10,352.50 356.30,352.18 357.60,350.06 358.50,348.60 359.30,348.28 361.00,347.60 361.30,346.62 362.30,343.35 362.50,342.70 363.10,341.15 364.00,338.83 364.40,337.80 365.30,335.31 365.70,334.20 366.40,332.03 367.20,329.54 367.60,328.30 368.00,328.16 369.10,327.78 370.20,327.40 371.30,327.02 372.40,326.63 372.50,326.60 373.00,326.55 374.50,326.40 376.00,326.24 377.90,326.05 379.40,325.90 379.90,325.90 380.40,325.90 380.90,325.90 381.40,327.40" stroke="#6bacdb" stroke-width="0.75" fill="none" stroke-linejoin="round"/>
<polyline points="405.05,365.99 405.20,365.98 406.30,365.90 407.40,365.82 408.50,365.74 409.50,365.66 410.60,365.58 411.70,365.50 412.80,365.42 414.50,365.30 416.10,365.23 417.70,365.16 419.70,365.08 421.50,365.00 422.60,364.83 425.40,364.40 427.00,364.15 428.60,363.90 429.70,363.73 432.50,363.30 434.60,362.97 435.70,362.80 436.80,362.34 439.00,361.41 439.50,361.20 440.10,360.24 441.20,358.48 441.50,358.00 442.60,357.32 445.40,355.61 445.90,355.30 448.10,352.46 449.70,350.40 450.80,348.90 452.70,346.31 454.10,344.40 455.70,343.75 456.80,343.30 458.50,343.09 460.10,342.90 462.30,342.63 463.40,342.50 465.00,342.50 467.20,342.50 469.40,342.50 470.50,342.50 471.50,342.36 473.20,342.13 474.30,341.97 475.90,341.75 477.00,341.60 477.50,341.48 479.70,340.93 480.30,340.78 481.90,340.38 483.70,339.93 484.60,339.70 486.20,339.59 489.90,339.33 491.70,339.20 492.40,339.18 494.30,339.12 494.90,339.10 495.50,336.41 496.90,330.14 497.40,327.90 499.30,327.67 500.50,327.52 502.40,327.29 504.20,327.07 504.80,327.00 506.10,326.93 508.60,326.80 510.40,326.70 511.30,326.92" stroke="#6bacdb" stroke-width="0.75" fill="none" stroke-linejoin="round"/>
<polyline points="355.30,356.13 355.60,351.23 356.10,344.70 356.30,344.33 357.60,341.95 358.50,340.30 359.30,339.82 361.00,338.80 361.30,338.13 362.30,335.89 362.70,335.00 363.10,333.59 364.00,330.41 365.30,325.81 365.70,324.40 366.40,322.68 367.20,320.71 368.00,318.75 368.10,318.50 369.10,318.25 370.20,317.98 371.30,317.70 372.40,317.43 372.50,317.40 373.00,317.34 374.50,317.17 376.00,316.99 377.90,316.77 379.40,316.60 379.90,319.05 380.40,321.50" stroke="#ffa556" stroke-width="0.75" fill="none" stroke-linejoin="round"/>
<polyline points="406.30,365.74 407.40,365.60 408.50,365.48 409.50,365.36 410.60,365.24 411.70,365.12 412.80,364.99 414.50,364.80 416.10,364.53 417.70,364.25 419.70,363.91 421.50,363.60 422.60,363.23 425.40,362.28 427.00,361.74 428.60,361.20 429.70,360.94 432.50,360.27 434.60,359.76 435.70,359.50 436.80,358.92 439.00,357.76 439.50,357.50 440.10,356.12 441.20,353.58 442.10,351.50 442.60,351.07 445.40,348.63 445.90,348.20 448.10,345.27 449.20,343.80 450.80,341.38 452.70,338.51 453.50,337.30 454.10,336.94 455.70,335.97 456.80,335.30 458.50,335.11 460.10,334.93 462.30,334.68 463.90,334.50 465.00,334.44 467.20,334.33 469.40,334.22 469.90,334.20 471.00,334.00" stroke="#ffa556" stroke-width="0.75" fill="none" stroke-linejoin="round"/>
<polyline points="474.80,337.13 475.90,336.75 477.50,336.20 479.70,336.01 480.30,335.96 481.90,335.83 483.70,335.68 484.60,335.60 486.20,335.44 489.90,335.08 491.70,334.90 492.40,334.88 494.30,334.82 494.90,334.80 495.50,331.20 496.90,322.80 497.40,319.80 499.30,319.65 500.50,319.55 502.40,319.39 504.20,319.25 504.80,319.20 505.80,318.32" stroke="#ffa556" stroke-width="0.75" fill="none" stroke-linejoin="round"/>
<polyline points="355.30,351.93 355.60,340.72 355.80,336.00 356.30,335.84 357.60,335.42 358.30,335.20 359.30,334.80 360.80,334.20 361.30,332.18 362.30,328.15 363.10,324.92 363.70,322.50 364.00,321.90 365.30,319.30 365.70,318.50 366.40,316.78 367.20,314.81 368.00,312.85 368.10,312.60 369.10,312.44 370.20,312.27 371.30,312.09 372.40,311.92 372.50,311.90 373.00,311.88 374.50,311.84 376.00,311.79 377.90,311.73 378.90,311.70 379.40,313.15 379.90,314.60" stroke="#6bbc6b" stroke-width="0.75" fill="none" stroke-linejoin="round"/>
<polyline points="407.55,365.48 408.50,365.35 409.50,365.20 410.60,365.05 411.70,364.89 412.80,364.74 414.50,364.50 416.10,364.00 417.70,363.49 419.70,362.87 421.50,362.30 422.60,361.82 425.40,360.60 427.00,359.90 428.60,359.20 429.70,358.83 432.50,357.88 434.60,357.17 435.70,356.80 436.80,356.28 439.00,355.24 439.50,355.00 440.10,353.43 441.20,350.55 442.10,348.20 442.60,347.84 445.40,345.86 445.90,345.50 448.10,342.90 449.20,341.60 450.80,338.36 452.70,334.52 453.50,332.90 454.10,332.41 455.70,331.10 456.80,330.20 458.50,330.06 460.10,329.92 462.30,329.74 463.90,329.60 465.00,329.69 466.55,329.82" stroke="#6bbc6b" stroke-width="0.75" fill="none" stroke-linejoin="round"/>
<polyline points="475.30,336.68 475.90,336.30 477.50,335.30 479.70,334.74 480.30,334.59 481.90,334.18 483.70,333.73 484.60,333.50 486.20,333.36 489.90,333.05 491.70,332.90 492.40,332.88 494.30,332.82 494.90,332.80 495.50,328.65 496.90,318.96 497.40,315.50 499.30,315.16 500.50,314.94 502.40,314.60 504.20,314.75 504.55,314.77" stroke="#6bbc6b" stroke-width="0.75" fill="none" stroke-linejoin="round"/>
<polyline points="355.30,349.98 355.60,335.85 355.70,333.00 356.30,332.84 357.60,332.49 358.30,332.30 359.30,331.90 360.80,331.30 361.30,329.05 362.30,324.55 363.10,320.95 363.20,320.50 364.00,318.93 365.30,316.38 365.70,315.60 366.40,313.06 367.20,310.15 367.60,308.70 368.00,308.57 369.10,308.20 370.20,307.83 370.60,307.70 371.30,307.79 372.40,307.93 373.00,308.01 374.50,308.20 376.00,308.20" stroke="#f45a62" stroke-width="0.75" fill="none" stroke-linejoin="round"/>
<polyline points="377.05,308.20 377.90,308.20 378.90,308.20 379.40,310.98 379.70,312.64" stroke="#f45a62" stroke-width="0.75" fill="none" stroke-linejoin="round"/>
<polyline points="411.05,364.78 411.70,364.67 412.80,364.49 414.50,364.20 416.10,363.51 417.70,362.83 419.70,361.97 421.50,361.20 422.60,360.69 425.40,359.39 427.00,358.64 428.60,357.90 429.70,357.48 432.50,356.42 434.60,355.62 435.70,355.20 436.80,354.71 439.00,353.72 439.50,353.50 440.10,351.65 441.20,348.27 442.10,345.50 442.60,345.13 445.40,343.07 445.90,342.70 448.10,339.83 449.20,338.40 450.80,334.69 452.70,330.29 453.00,329.60 454.10,328.67 455.70,327.33 456.80,326.40 458.50,326.40 460.10,326.40 461.20,326.40 462.30,326.63 464.30,327.05" stroke="#f45a62" stroke-width="0.75" fill="none" stroke-linejoin="round"/>
<polyline points="476.05,335.99 477.50,334.90 479.70,334.13 480.30,333.91 481.90,333.35 483.70,332.72 484.60,332.40 486.20,332.22 489.90,331.80 491.70,331.60 492.40,331.56 494.30,331.44 494.90,331.40 495.50,326.70 496.90,315.72 497.40,311.80 499.30,311.49 500.50,311.30 501.70,311.10 502.40,311.57 503.90,312.57" stroke="#f45a62" stroke-width="0.75" fill="none" stroke-linejoin="round"/>
<polyline points="319.80,337.30 321.30,338.60 324.00,340.00 328.90,340.00 334.40,339.50 334.90,338.60 336.00,342.70 337.60,346.00 340.90,347.60 342.80,349.10 344.80,348.60 347.70,351.60 350.20,353.50 352.20,357.00 354.10,362.40 354.60,364.30 355.10,359.40 355.60,331.00 356.20,330.70 356.30,330.63 357.60,329.77 358.30,329.30 359.30,328.90 360.80,328.30 361.30,326.26 362.30,322.17 363.10,318.91 363.20,318.50 364.00,316.61 365.30,313.54 365.70,312.60 366.40,309.89 367.20,306.80 368.00,306.13 369.10,305.22 369.60,304.80 370.20,305.22 371.30,306.00 372.00,306.50 372.40,306.19 372.50,306.12 373.00,307.70 374.50,307.50 376.00,308.06 377.90,308.77 378.50,309.00 379.40,309.70 379.90,314.60 380.40,321.50 381.40,327.40 383.30,332.30 386.30,337.20 389.40,338.30 393.70,339.40 395.40,340.50 398.10,347.00 400.80,352.50 402.50,360.10 403.50,366.10 405.20,365.75 406.30,365.53 407.40,365.30 408.50,365.08 409.50,364.89 410.60,364.67 411.70,364.45 412.80,364.24 414.50,363.90 416.10,363.08 417.70,362.25 419.70,361.23 421.50,360.30 422.60,359.76 425.40,358.38 427.00,357.59 428.60,356.80 429.70,356.43 432.50,355.48 434.60,354.77 435.70,354.40 436.80,353.85 439.00,352.75 439.50,352.50 440.10,350.24 441.20,346.09 442.10,342.70 442.60,342.41 445.40,340.79 445.90,340.50 448.10,337.23 449.20,335.60 450.80,332.19 452.70,328.14 453.00,327.50 454.10,326.20 455.70,324.31 456.30,323.60 456.80,323.68 458.50,323.95 460.10,324.20 462.30,325.67 463.40,326.40 463.90,326.60 465.00,327.50 467.20,330.70 469.40,332.40 471.50,334.50 473.20,338.90 474.30,337.30 475.90,335.90 477.50,334.50 479.70,333.66 480.30,333.44 481.90,332.83 483.70,332.14 484.60,331.80 486.20,331.55 489.90,330.98 491.70,330.70 492.40,330.63 494.30,330.46 494.90,330.40 495.50,324.31 496.80,311.10 496.90,311.00 498.60,309.30 499.30,309.41 500.50,309.60 502.40,309.90 503.60,311.53 504.20,313.60 506.10,319.20 508.60,323.60 512.30,327.90 516.00,332.30 519.10,334.80 522.90,337.20 526.00,338.50 529.10,342.20 531.60,345.30 533.50,347.80" stroke="#a179c5" stroke-width="0.75" fill="none" stroke-linejoin="round"/>
<g fill="#2b88cc"><circle cx="358.32" cy="348.88" r="0.95"/><circle cx="365.31" cy="335.28" r="0.95"/><circle cx="372.29" cy="326.67" r="0.95"/><circle cx="379.28" cy="325.91" r="0.95"/><circle cx="407.22" cy="365.83" r="0.95"/><circle cx="414.20" cy="365.32" r="0.95"/><circle cx="421.19" cy="365.01" r="0.95"/><circle cx="428.17" cy="363.97" r="0.95"/><circle cx="435.16" cy="362.88" r="0.95"/><circle cx="442.14" cy="357.60" r="0.95"/><circle cx="449.13" cy="351.13" r="0.95"/><circle cx="456.12" cy="343.58" r="0.95"/><circle cx="463.10" cy="342.54" r="0.95"/><circle cx="470.08" cy="342.50" r="0.95"/><circle cx="477.07" cy="341.58" r="0.95"/><circle cx="484.05" cy="339.84" r="0.95"/><circle cx="491.04" cy="339.25" r="0.95"/><circle cx="498.02" cy="327.82" r="0.95"/><circle cx="505.01" cy="326.99" r="0.95"/></g>
<g fill="#ff7f0e"><circle cx="358.32" cy="340.62" r="0.95"/><circle cx="365.31" cy="325.78" r="0.95"/><circle cx="372.29" cy="317.45" r="0.95"/><circle cx="379.28" cy="316.61" r="0.95"/><circle cx="407.22" cy="365.62" r="0.95"/><circle cx="414.20" cy="364.83" r="0.95"/><circle cx="421.19" cy="363.65" r="0.95"/><circle cx="428.17" cy="361.34" r="0.95"/><circle cx="435.16" cy="359.63" r="0.95"/><circle cx="442.14" cy="351.46" r="0.95"/><circle cx="449.13" cy="343.89" r="0.95"/><circle cx="456.12" cy="335.72" r="0.95"/><circle cx="463.10" cy="334.59" r="0.95"/><circle cx="470.08" cy="334.17" r="0.95"/><circle cx="477.07" cy="336.35" r="0.95"/><circle cx="484.05" cy="335.65" r="0.95"/><circle cx="491.04" cy="334.97" r="0.95"/><circle cx="498.02" cy="319.75" r="0.95"/><circle cx="505.01" cy="319.01" r="0.95"/></g>
<g fill="#2ca02c"><circle cx="358.32" cy="335.19" r="0.95"/><circle cx="365.31" cy="319.28" r="0.95"/><circle cx="372.29" cy="311.93" r="0.95"/><circle cx="379.28" cy="312.80" r="0.95"/><circle cx="414.20" cy="364.54" r="0.95"/><circle cx="421.19" cy="362.40" r="0.95"/><circle cx="428.17" cy="359.39" r="0.95"/><circle cx="435.16" cy="356.98" r="0.95"/><circle cx="442.14" cy="348.17" r="0.95"/><circle cx="449.13" cy="341.68" r="0.95"/><circle cx="456.12" cy="330.76" r="0.95"/><circle cx="463.10" cy="329.67" r="0.95"/><circle cx="477.07" cy="335.57" r="0.95"/><circle cx="484.05" cy="333.64" r="0.95"/><circle cx="491.04" cy="332.96" r="0.95"/><circle cx="498.02" cy="315.39" r="0.95"/></g>
<g fill="#f0141e"><circle cx="358.32" cy="332.29" r="0.95"/><circle cx="365.31" cy="316.36" r="0.95"/><circle cx="372.29" cy="307.92" r="0.95"/><circle cx="379.28" cy="310.31" r="0.95"/><circle cx="414.20" cy="364.25" r="0.95"/><circle cx="421.19" cy="361.33" r="0.95"/><circle cx="428.17" cy="358.10" r="0.95"/><circle cx="435.16" cy="355.41" r="0.95"/><circle cx="442.14" cy="345.47" r="0.95"/><circle cx="449.13" cy="338.49" r="0.95"/><circle cx="456.12" cy="326.98" r="0.95"/><circle cx="463.10" cy="326.80" r="0.95"/><circle cx="477.07" cy="335.22" r="0.95"/><circle cx="484.05" cy="332.59" r="0.95"/><circle cx="491.04" cy="331.67" r="0.95"/><circle cx="498.02" cy="311.70" r="0.95"/></g>
<g fill="#9467bd"><circle cx="323.40" cy="339.69" r="0.95"/><circle cx="330.38" cy="339.87" r="0.95"/><circle cx="337.37" cy="345.53" r="0.95"/><circle cx="344.35" cy="348.71" r="0.95"/><circle cx="351.34" cy="355.50" r="0.95"/><circle cx="358.32" cy="329.29" r="0.95"/><circle cx="365.31" cy="313.52" r="0.95"/><circle cx="372.29" cy="306.27" r="0.95"/><circle cx="379.28" cy="309.61" r="0.95"/><circle cx="386.26" cy="337.14" r="0.95"/><circle cx="393.25" cy="339.28" r="0.95"/><circle cx="400.24" cy="351.35" r="0.95"/><circle cx="407.22" cy="365.34" r="0.95"/><circle cx="414.20" cy="363.96" r="0.95"/><circle cx="421.19" cy="360.46" r="0.95"/><circle cx="428.17" cy="357.01" r="0.95"/><circle cx="435.16" cy="354.58" r="0.95"/><circle cx="442.14" cy="342.67" r="0.95"/><circle cx="449.13" cy="335.70" r="0.95"/><circle cx="456.12" cy="323.82" r="0.95"/><circle cx="463.10" cy="326.20" r="0.95"/><circle cx="470.08" cy="333.08" r="0.95"/><circle cx="477.07" cy="334.88" r="0.95"/><circle cx="484.05" cy="332.01" r="0.95"/><circle cx="491.04" cy="330.80" r="0.95"/><circle cx="498.02" cy="309.88" r="0.95"/><circle cx="505.01" cy="315.99" r="0.95"/><circle cx="512.00" cy="327.55" r="0.95"/><circle cx="518.98" cy="334.70" r="0.95"/><circle cx="525.96" cy="338.49" r="0.95"/><circle cx="532.95" cy="347.08" r="0.95"/></g>
</g>
<rect x="322.00" y="377.40" width="50.70" height="34.10" rx="0.8" fill="#fff" fill-opacity="0.85" stroke="#ddd" stroke-width="0.5"/>
<path d="M324.20,380.40h6.6" stroke="#555" stroke-width="0.8"/>
<path d="M324.20,385.75h6.6" stroke="#2b88cc" stroke-width="0.8" stroke-dasharray="1.6,0.8"/>
<g fill="#2b88cc"><circle cx="324.60" cy="385.75" r="0.9"/><circle cx="327.50" cy="385.75" r="0.9"/><circle cx="330.40" cy="385.75" r="0.9"/></g>
<path d="M324.20,391.10h6.6" stroke="#ff7f0e" stroke-width="0.8" stroke-dasharray="1.6,0.8"/>
<g fill="#ff7f0e"><circle cx="324.60" cy="391.10" r="0.9"/><circle cx="327.50" cy="391.10" r="0.9"/><circle cx="330.40" cy="391.10" r="0.9"/></g>
<path d="M324.20,396.45h6.6" stroke="#2ca02c" stroke-width="0.8" stroke-dasharray="1.6,0.8"/>
<g fill="#2ca02c"><circle cx="324.60" cy="396.45" r="0.9"/><circle cx="327.50" cy="396.45" r="0.9"/><circle cx="330.40" cy="396.45" r="0.9"/></g>
<path d="M324.20,401.80h6.6" stroke="#f0141e" stroke-width="0.8" stroke-dasharray="1.6,0.8"/>
<g fill="#f0141e"><circle cx="324.60" cy="401.80" r="0.9"/><circle cx="327.50" cy="401.80" r="0.9"/><circle cx="330.40" cy="401.80" r="0.9"/></g>
<path d="M324.20,407.15h6.6" stroke="#9467bd" stroke-width="0.8" stroke-dasharray="1.6,0.8"/>
<g fill="#9467bd"><circle cx="324.60" cy="407.15" r="0.9"/><circle cx="327.50" cy="407.15" r="0.9"/><circle cx="330.40" cy="407.15" r="0.9"/></g>
<text transform="translate(334.50,381.80) scale(0.5)" class="lg">Stream flow</text>
<text transform="translate(334.50,387.15) scale(0.5)" class="lg">Base flow with 0.003</text>
<text transform="translate(334.50,392.50) scale(0.5)" class="lg">Base flow with 0.006</text>
<text transform="translate(334.50,397.85) scale(0.5)" class="lg">Base flow with 0.009</text>
<text transform="translate(334.50,403.20) scale(0.5)" class="lg">Base flow with 0.012</text>
<text transform="translate(334.50,408.55) scale(0.5)" class="lg">Base flow with 0.015</text>
<rect x="319.80" y="243.60" width="213.70" height="169.80" fill="none" stroke="#888" stroke-width="0.8"/>
</svg>
</body></html>
